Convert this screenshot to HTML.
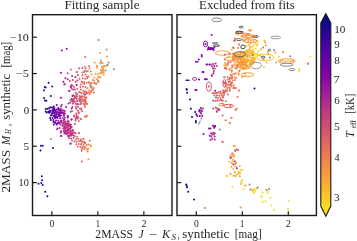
<!DOCTYPE html>
<html><head><meta charset="utf-8"><style>html,body{margin:0;padding:0;background:#fff;}svg{display:block;will-change:transform;}</style></head>
<body><svg width="357" height="241" viewBox="0 0 357 241">
<rect width="357" height="241" fill="#fff"/>
<defs><linearGradient id="cbg" x1="0" y1="0" x2="0" y2="1"><stop offset="0.000" stop-color="#0d0887"/><stop offset="0.050" stop-color="#280592"/><stop offset="0.100" stop-color="#3e049c"/><stop offset="0.150" stop-color="#5102a3"/><stop offset="0.200" stop-color="#6400a7"/><stop offset="0.250" stop-color="#7701a8"/><stop offset="0.300" stop-color="#8808a6"/><stop offset="0.350" stop-color="#99159f"/><stop offset="0.400" stop-color="#a82296"/><stop offset="0.450" stop-color="#b6308b"/><stop offset="0.500" stop-color="#c33d80"/><stop offset="0.550" stop-color="#cd4a76"/><stop offset="0.600" stop-color="#d8576b"/><stop offset="0.650" stop-color="#e26561"/><stop offset="0.700" stop-color="#ea7457"/><stop offset="0.750" stop-color="#f1834c"/><stop offset="0.800" stop-color="#f79342"/><stop offset="0.850" stop-color="#fca338"/><stop offset="0.900" stop-color="#fdb52e"/><stop offset="0.950" stop-color="#fdc827"/><stop offset="1.000" stop-color="#f9dc24"/></linearGradient></defs>
<g><circle cx="64.4" cy="113.8" r="1.0" fill="#8e0ca4"/><circle cx="253.8" cy="52.6" r="1.0" fill="#fbd724"/><circle cx="255.5" cy="48.5" r="1.0" fill="#fdc627"/><circle cx="216.0" cy="97.5" r="1.0" fill="#cc4778"/><circle cx="76.2" cy="144.3" r="1.0" fill="#e16462"/><circle cx="242.1" cy="64.2" r="1.0" fill="#f3854b"/><circle cx="80.1" cy="99.9" r="1.0" fill="#e26660"/><circle cx="64.4" cy="128.0" r="1.0" fill="#ab2494"/><circle cx="51.4" cy="115.2" r="1.0" fill="#6600a7"/><circle cx="212.6" cy="93.3" r="1.0" fill="#e16462"/><circle cx="50.5" cy="107.2" r="1.0" fill="#5002a2"/><circle cx="244.7" cy="61.1" r="1.0" fill="#f89540"/><circle cx="68.4" cy="130.6" r="1.0" fill="#b6308b"/><circle cx="57.2" cy="111.8" r="1.0" fill="#8b0aa5"/><circle cx="60.9" cy="72.8" r="1.0" fill="#8606a6"/><circle cx="85.4" cy="99.1" r="1.0" fill="#ed7a52"/><circle cx="58.1" cy="120.8" r="1.0" fill="#ab2494"/><circle cx="269.0" cy="189.1" r="1.0" fill="#8a8a8a"/><circle cx="267.7" cy="192.8" r="1.0" fill="#f9dc24"/><circle cx="90.9" cy="92.1" r="1.0" fill="#ed7a52"/><circle cx="241.2" cy="59.5" r="1.0" fill="#f68d45"/><circle cx="234.8" cy="172.4" r="1.0" fill="#fdae32"/><circle cx="247.5" cy="65.7" r="1.0" fill="#fa9b3d"/><circle cx="248.1" cy="52.2" r="1.0" fill="#fcce25"/><circle cx="249.3" cy="50.4" r="1.0" fill="#febd2a"/><circle cx="221.1" cy="100.0" r="1.0" fill="#cc4778"/><circle cx="79.1" cy="99.2" r="1.0" fill="#e16462"/><circle cx="280.5" cy="61.0" r="1.0" fill="#f9983e"/><circle cx="52.2" cy="86.6" r="1.0" fill="#5601a4"/><circle cx="235.7" cy="73.2" r="1.0" fill="#ed7a52"/><circle cx="207.2" cy="64.4" r="1.0" fill="#8606a6"/><circle cx="233.9" cy="154.7" r="1.0" fill="#fdae32"/><circle cx="83.4" cy="139.0" r="1.0" fill="#e16462"/><circle cx="49.2" cy="112.8" r="1.0" fill="#20068f"/><circle cx="247.9" cy="52.4" r="1.0" fill="#fcd025"/><circle cx="53.1" cy="111.7" r="1.0" fill="#48039f"/><circle cx="217.3" cy="100.4" r="1.0" fill="#cc4778"/><circle cx="214.7" cy="139.5" r="1.0" fill="#ab2494"/><circle cx="242.1" cy="62.7" r="1.0" fill="#f79143"/><circle cx="243.3" cy="66.3" r="1.0" fill="#f9983e"/><circle cx="253.0" cy="61.7" r="1.0" fill="#fcce25"/><circle cx="55.4" cy="116.9" r="1.0" fill="#6001a6"/><circle cx="293.0" cy="61.0" r="1.0" fill="#f9983e"/><circle cx="85.2" cy="57.0" r="1.0" fill="#e16462"/><circle cx="80.0" cy="101.3" r="1.0" fill="#e16462"/><circle cx="243.6" cy="52.1" r="1.0" fill="#f9973f"/><circle cx="242.0" cy="63.5" r="1.0" fill="#f9983e"/><circle cx="78.7" cy="143.9" r="1.0" fill="#e16462"/><circle cx="238.9" cy="54.7" r="1.0" fill="#fdb130"/><circle cx="72.1" cy="76.0" r="1.0" fill="#ab2494"/><circle cx="228.8" cy="82.1" r="1.0" fill="#e16462"/><circle cx="238.1" cy="149.9" r="1.0" fill="#e16462"/><circle cx="240.0" cy="54.4" r="1.0" fill="#f68d45"/><circle cx="54.4" cy="108.1" r="1.0" fill="#6c00a8"/><circle cx="80.8" cy="100.8" r="1.0" fill="#e16462"/><circle cx="235.8" cy="88.0" r="1.0" fill="#e16462"/><circle cx="70.8" cy="124.8" r="1.0" fill="#ab2494"/><circle cx="107.1" cy="56.5" r="1.0" fill="#f9983e"/><circle cx="70.4" cy="128.6" r="1.0" fill="#ab2494"/><circle cx="240.5" cy="66.6" r="1.0" fill="#f48849"/><circle cx="90.8" cy="85.5" r="1.0" fill="#8a8a8a"/><circle cx="74.9" cy="89.6" r="1.0" fill="#cc4778"/><circle cx="84.8" cy="91.8" r="1.0" fill="#e26660"/><circle cx="66.6" cy="125.4" r="1.0" fill="#b7318a"/><circle cx="216.8" cy="95.4" r="1.0" fill="#cc4778"/><circle cx="61.5" cy="135.9" r="1.0" fill="#ab2494"/><circle cx="253.1" cy="59.2" r="1.0" fill="#fdc627"/><circle cx="101.7" cy="71.8" r="1.0" fill="#f9983e"/><circle cx="67.8" cy="135.9" r="1.0" fill="#cc4778"/><circle cx="229.0" cy="81.6" r="1.0" fill="#e16462"/><circle cx="50.1" cy="117.9" r="1.0" fill="#20068f"/><circle cx="61.0" cy="131.3" r="1.0" fill="#ab2494"/><circle cx="233.0" cy="80.4" r="1.0" fill="#ed7a52"/><circle cx="53.7" cy="108.7" r="1.0" fill="#5601a4"/><circle cx="77.2" cy="104.8" r="1.0" fill="#cd4a76"/><circle cx="226.5" cy="84.4" r="1.0" fill="#ed7a52"/><circle cx="237.9" cy="66.9" r="1.0" fill="#f2844b"/><circle cx="76.7" cy="116.8" r="1.0" fill="#cc4778"/><circle cx="80.8" cy="89.6" r="1.0" fill="#e16462"/><circle cx="229.6" cy="90.8" r="1.0" fill="#ed7a52"/><circle cx="266.5" cy="62.7" r="1.0" fill="#fdc627"/><circle cx="249.0" cy="45.0" r="1.0" fill="#fdc627"/><circle cx="246.1" cy="56.1" r="1.0" fill="#fba139"/><circle cx="60.9" cy="136.1" r="1.0" fill="#ab2494"/><circle cx="248.1" cy="41.1" r="1.0" fill="#f9983e"/><circle cx="73.2" cy="89.4" r="1.0" fill="#cc4778"/><circle cx="226.5" cy="84.1" r="1.0" fill="#e16462"/><circle cx="226.1" cy="91.6" r="1.0" fill="#e16462"/><circle cx="227.7" cy="77.1" r="1.0" fill="#ed7a52"/><circle cx="89.2" cy="90.4" r="1.0" fill="#ed7a52"/><circle cx="246.2" cy="55.6" r="1.0" fill="#fec029"/><circle cx="74.1" cy="98.8" r="1.0" fill="#cc4778"/><circle cx="250.8" cy="40.4" r="1.0" fill="#f9983e"/><circle cx="92.9" cy="80.0" r="1.0" fill="#ed7a52"/><circle cx="242.0" cy="65.2" r="1.0" fill="#fa9e3b"/><circle cx="225.6" cy="120.2" r="1.0" fill="#e16462"/><circle cx="84.2" cy="97.1" r="1.0" fill="#e16462"/><circle cx="67.5" cy="121.7" r="1.0" fill="#c9447a"/><circle cx="222.6" cy="141.7" r="1.0" fill="#e16462"/><circle cx="243.1" cy="60.3" r="1.0" fill="#fca338"/><circle cx="245.7" cy="52.1" r="1.0" fill="#fa9e3b"/><circle cx="89.1" cy="66.0" r="1.0" fill="#e16462"/><circle cx="85.1" cy="116.8" r="1.0" fill="#ed7a52"/><circle cx="41.8" cy="176.2" r="1.0" fill="#20068f"/><circle cx="70.3" cy="102.5" r="1.0" fill="#ab2494"/><circle cx="64.4" cy="113.3" r="1.0" fill="#ab2494"/><circle cx="239.5" cy="57.1" r="1.0" fill="#f89540"/><circle cx="69.2" cy="132.6" r="1.0" fill="#ca457a"/><circle cx="80.8" cy="84.5" r="1.0" fill="#e16462"/><circle cx="230.7" cy="74.8" r="1.0" fill="#e16462"/><circle cx="77.4" cy="101.3" r="1.0" fill="#cc4778"/><circle cx="107.6" cy="65.0" r="1.0" fill="#8a8a8a"/><circle cx="232.0" cy="82.4" r="1.0" fill="#ed7a52"/><circle cx="245.0" cy="65.0" r="1.0" fill="#f9973f"/><circle cx="267.7" cy="191.0" r="1.0" fill="#f9dc24"/><circle cx="67.8" cy="133.1" r="1.0" fill="#ba3388"/><circle cx="227.0" cy="90.8" r="1.0" fill="#e16462"/><circle cx="231.4" cy="156.4" r="1.0" fill="#fdae32"/><circle cx="83.3" cy="138.8" r="1.0" fill="#ed7a52"/><circle cx="218.1" cy="97.9" r="1.0" fill="#e16462"/><circle cx="264.4" cy="40.8" r="1.0" fill="#fdc627"/><circle cx="238.1" cy="59.1" r="1.0" fill="#f3854b"/><circle cx="234.5" cy="60.3" r="1.0" fill="#f0804e"/><circle cx="243.6" cy="62.5" r="1.0" fill="#fdb42f"/><circle cx="240.5" cy="55.2" r="1.0" fill="#fa9e3b"/><circle cx="85.2" cy="94.4" r="1.0" fill="#db5c68"/><circle cx="201.3" cy="110.5" r="1.0" fill="#8606a6"/><circle cx="244.9" cy="52.2" r="1.0" fill="#fdb130"/><circle cx="222.8" cy="96.3" r="1.0" fill="#e16462"/><circle cx="67.0" cy="133.6" r="1.0" fill="#b32c8e"/><circle cx="42.7" cy="145.7" r="1.0" fill="#20068f"/><circle cx="239.4" cy="56.1" r="1.0" fill="#f9983e"/><circle cx="214.2" cy="127.5" r="1.0" fill="#ab2494"/><circle cx="238.9" cy="90.5" r="1.0" fill="#ed7a52"/><circle cx="231.6" cy="86.2" r="1.0" fill="#ed7a52"/><circle cx="216.9" cy="66.1" r="1.0" fill="#cc4778"/><circle cx="69.4" cy="125.4" r="1.0" fill="#cc4778"/><circle cx="265.7" cy="45.5" r="1.0" fill="#f9983e"/><circle cx="223.2" cy="90.4" r="1.0" fill="#e16462"/><circle cx="230.5" cy="155.5" r="1.0" fill="#fdae32"/><circle cx="242.4" cy="59.5" r="1.0" fill="#f79342"/><circle cx="58.4" cy="112.5" r="1.0" fill="#8606a6"/><circle cx="60.9" cy="97.8" r="1.0" fill="#8606a6"/><circle cx="250.9" cy="50.9" r="1.0" fill="#fdac33"/><circle cx="100.3" cy="52.9" r="1.0" fill="#f9983e"/><circle cx="250.4" cy="63.1" r="1.0" fill="#fdae32"/><circle cx="213.9" cy="92.9" r="1.0" fill="#e16462"/><circle cx="82.1" cy="111.3" r="1.0" fill="#8a8a8a"/><circle cx="230.7" cy="84.5" r="1.0" fill="#ed7a52"/><circle cx="229.5" cy="79.3" r="1.0" fill="#ed7a52"/><circle cx="90.8" cy="71.6" r="1.0" fill="#ed7a52"/><circle cx="238.3" cy="56.8" r="1.0" fill="#f9983e"/><circle cx="70.4" cy="143.7" r="1.0" fill="#ab2494"/><circle cx="243.6" cy="61.7" r="1.0" fill="#fdac33"/><circle cx="237.1" cy="64.5" r="1.0" fill="#fb9f3a"/><circle cx="42.7" cy="185.1" r="1.0" fill="#20068f"/><circle cx="67.1" cy="130.2" r="1.0" fill="#a62098"/><circle cx="247.2" cy="59.1" r="1.0" fill="#feb72d"/><circle cx="86.1" cy="102.4" r="1.0" fill="#e16462"/><circle cx="242.3" cy="77.0" r="1.0" fill="#f9983e"/><circle cx="47.4" cy="108.7" r="1.0" fill="#20068f"/><circle cx="244.7" cy="61.6" r="1.0" fill="#f89540"/><circle cx="57.2" cy="129.2" r="1.0" fill="#ab2494"/><circle cx="201.8" cy="56.4" r="1.0" fill="#8f0da4"/><circle cx="233.1" cy="47.4" r="1.0" fill="#e16462"/><circle cx="211.0" cy="133.2" r="1.0" fill="#ab2494"/><circle cx="241.5" cy="68.6" r="1.0" fill="#f07f4f"/><circle cx="203.0" cy="108.4" r="1.0" fill="#ab2494"/><circle cx="49.8" cy="110.6" r="1.0" fill="#44039e"/><circle cx="242.0" cy="58.0" r="1.0" fill="#feb82c"/><circle cx="241.9" cy="61.3" r="1.0" fill="#f3854b"/><circle cx="224.7" cy="54.8" r="1.0" fill="#ab2494"/><circle cx="61.0" cy="110.3" r="1.0" fill="#7501a8"/><circle cx="250.0" cy="48.5" r="1.0" fill="#fdc627"/><circle cx="245.7" cy="63.9" r="1.0" fill="#f79342"/><circle cx="40.5" cy="150.4" r="1.0" fill="#20068f"/><circle cx="252.4" cy="47.6" r="1.0" fill="#fdc627"/><circle cx="232.1" cy="65.6" r="1.0" fill="#ed7a52"/><circle cx="227.4" cy="88.3" r="1.0" fill="#e16462"/><circle cx="52.4" cy="110.0" r="1.0" fill="#6a00a8"/><circle cx="257.3" cy="40.7" r="1.0" fill="#fdc627"/><circle cx="58.1" cy="122.9" r="1.0" fill="#6c00a8"/><circle cx="87.1" cy="104.0" r="1.0" fill="#e66c5c"/><circle cx="253.2" cy="50.1" r="1.0" fill="#fdc627"/><circle cx="219.8" cy="129.5" r="1.0" fill="#8a8a8a"/><circle cx="230.4" cy="82.0" r="1.0" fill="#f9983e"/><circle cx="75.8" cy="92.9" r="1.0" fill="#cc4778"/><circle cx="84.1" cy="72.0" r="1.0" fill="#8a8a8a"/><circle cx="65.5" cy="129.7" r="1.0" fill="#bb3488"/><circle cx="207.8" cy="49.5" r="1.0" fill="#8606a6"/><circle cx="103.8" cy="72.2" r="1.0" fill="#f9983e"/><circle cx="234.6" cy="88.0" r="1.0" fill="#e16462"/><circle cx="59.3" cy="122.5" r="1.0" fill="#8606a6"/><circle cx="235.0" cy="56.5" r="1.0" fill="#fba139"/><circle cx="254.0" cy="53.9" r="1.0" fill="#f8e125"/><circle cx="82.9" cy="86.6" r="1.0" fill="#e16462"/><circle cx="46.4" cy="100.7" r="1.0" fill="#20068f"/><circle cx="80.9" cy="118.9" r="1.0" fill="#e16462"/><circle cx="244.0" cy="69.0" r="1.0" fill="#f79342"/><circle cx="255.7" cy="54.3" r="1.0" fill="#fdcb26"/><circle cx="226.0" cy="67.5" r="1.0" fill="#f9983e"/><circle cx="65.2" cy="125.9" r="1.0" fill="#ab2494"/><circle cx="66.1" cy="107.1" r="1.0" fill="#8606a6"/><circle cx="245.5" cy="62.1" r="1.0" fill="#febb2b"/><circle cx="59.2" cy="110.8" r="1.0" fill="#8606a6"/><circle cx="209.3" cy="64.4" r="1.0" fill="#8606a6"/><circle cx="237.7" cy="174.1" r="1.0" fill="#fdae32"/><circle cx="82.9" cy="146.4" r="1.0" fill="#ed7a52"/><circle cx="219.4" cy="109.6" r="1.0" fill="#ab2494"/><circle cx="221.9" cy="95.4" r="1.0" fill="#e16462"/><circle cx="307.8" cy="64.0" r="1.0" fill="#f9983e"/><circle cx="257.4" cy="44.2" r="1.0" fill="#fdc627"/><circle cx="102.1" cy="66.7" r="1.0" fill="#ed7a52"/><circle cx="274.2" cy="210.0" r="1.0" fill="#f8df25"/><circle cx="252.2" cy="54.7" r="1.0" fill="#fdae32"/><circle cx="69.8" cy="134.8" r="1.0" fill="#c8437b"/><circle cx="285.5" cy="61.5" r="1.0" fill="#f9983e"/><circle cx="225.2" cy="62.9" r="1.0" fill="#f9983e"/><circle cx="103.8" cy="74.7" r="1.0" fill="#f9983e"/><circle cx="233.5" cy="164.4" r="1.0" fill="#ab2494"/><circle cx="214.8" cy="68.6" r="1.0" fill="#cc4778"/><circle cx="65.4" cy="77.9" r="1.0" fill="#ab2494"/><circle cx="240.9" cy="65.1" r="1.0" fill="#f07f4f"/><circle cx="67.5" cy="127.4" r="1.0" fill="#ad2793"/><circle cx="242.9" cy="56.1" r="1.0" fill="#f9973f"/><circle cx="203.4" cy="72.0" r="1.0" fill="#8606a6"/><circle cx="245.0" cy="59.1" r="1.0" fill="#fdb42f"/><circle cx="52.6" cy="117.9" r="1.0" fill="#5601a4"/><circle cx="234.2" cy="64.6" r="1.0" fill="#fa9e3b"/><circle cx="69.0" cy="128.4" r="1.0" fill="#cc4778"/><circle cx="250.4" cy="189.6" r="1.0" fill="#8a8a8a"/><circle cx="250.2" cy="53.1" r="1.0" fill="#fdc827"/><circle cx="250.7" cy="60.0" r="1.0" fill="#febe2a"/><circle cx="77.9" cy="118.5" r="1.0" fill="#cc4778"/><circle cx="236.4" cy="60.4" r="1.0" fill="#fba238"/><circle cx="238.8" cy="65.0" r="1.0" fill="#fca537"/><circle cx="310.3" cy="56.6" r="1.0" fill="#f7e425"/><circle cx="237.4" cy="60.6" r="1.0" fill="#f68f44"/><circle cx="85.3" cy="74.5" r="1.0" fill="#e16462"/><circle cx="224.5" cy="92.9" r="1.0" fill="#e16462"/><circle cx="66.1" cy="123.8" r="1.0" fill="#cc4778"/><circle cx="86.6" cy="71.6" r="1.0" fill="#8a8a8a"/><circle cx="74.9" cy="96.3" r="1.0" fill="#cc4778"/><circle cx="70.3" cy="100.1" r="1.0" fill="#8a8a8a"/><circle cx="235.7" cy="56.6" r="1.0" fill="#fa9e3b"/><circle cx="223.7" cy="104.7" r="1.0" fill="#ed7a52"/><circle cx="241.6" cy="53.3" r="1.0" fill="#f79044"/><circle cx="246.5" cy="50.6" r="1.0" fill="#fca835"/><circle cx="236.0" cy="33.7" r="1.0" fill="#f9983e"/><circle cx="88.7" cy="76.6" r="1.0" fill="#ed7a52"/><circle cx="66.9" cy="128.0" r="1.0" fill="#cc4778"/><circle cx="85.4" cy="143.0" r="1.0" fill="#ed7a52"/><circle cx="86.3" cy="93.7" r="1.0" fill="#e87059"/><circle cx="69.6" cy="91.1" r="1.0" fill="#cc4778"/><circle cx="44.8" cy="87.0" r="1.0" fill="#20068f"/><circle cx="239.6" cy="70.6" r="1.0" fill="#ed7a52"/><circle cx="84.2" cy="141.8" r="1.0" fill="#ed7a52"/><circle cx="219.0" cy="92.1" r="1.0" fill="#e16462"/><circle cx="64.4" cy="84.5" r="1.0" fill="#ab2494"/><circle cx="82.4" cy="72.4" r="1.0" fill="#e16462"/><circle cx="63.6" cy="123.7" r="1.0" fill="#c5407e"/><circle cx="212.2" cy="138.7" r="1.0" fill="#ab2494"/><circle cx="237.4" cy="66.5" r="1.0" fill="#f89441"/><circle cx="242.1" cy="62.6" r="1.0" fill="#fba139"/><circle cx="58.6" cy="109.8" r="1.0" fill="#8707a6"/><circle cx="233.5" cy="48.0" r="1.0" fill="#e16462"/><circle cx="222.3" cy="93.3" r="1.0" fill="#e16462"/><circle cx="43.9" cy="90.3" r="1.0" fill="#20068f"/><circle cx="216.3" cy="108.4" r="1.0" fill="#e16462"/><circle cx="78.8" cy="121.0" r="1.0" fill="#e16462"/><circle cx="229.7" cy="90.1" r="1.0" fill="#e16462"/><circle cx="80.2" cy="104.2" r="1.0" fill="#d45270"/><circle cx="232.0" cy="77.4" r="1.0" fill="#ed7a52"/><circle cx="252.3" cy="58.5" r="1.0" fill="#fccd25"/><circle cx="60.9" cy="109.1" r="1.0" fill="#ab2494"/><circle cx="244.8" cy="73.3" r="1.0" fill="#f9983e"/><circle cx="87.4" cy="78.3" r="1.0" fill="#e16462"/><circle cx="59.6" cy="116.3" r="1.0" fill="#7401a8"/><circle cx="64.5" cy="127.1" r="1.0" fill="#a82296"/><circle cx="237.2" cy="54.6" r="1.0" fill="#fca835"/><circle cx="105.9" cy="66.3" r="1.0" fill="#f9983e"/><circle cx="238.1" cy="48.1" r="1.0" fill="#ed7a52"/><circle cx="246.3" cy="55.9" r="1.0" fill="#f9973f"/><circle cx="74.1" cy="115.5" r="1.0" fill="#cc4778"/><circle cx="85.8" cy="91.2" r="1.0" fill="#ed7a52"/><circle cx="243.6" cy="189.2" r="1.0" fill="#f9dc24"/><circle cx="84.2" cy="148.9" r="1.0" fill="#ed7a52"/><circle cx="252.8" cy="61.4" r="1.0" fill="#fca934"/><circle cx="252.9" cy="57.8" r="1.0" fill="#fdca26"/><circle cx="66.3" cy="131.0" r="1.0" fill="#c13b82"/><circle cx="283.0" cy="60.5" r="1.0" fill="#f9983e"/><circle cx="238.6" cy="171.5" r="1.0" fill="#fdae32"/><circle cx="74.2" cy="116.4" r="1.0" fill="#cc4778"/><circle cx="55.8" cy="112.1" r="1.0" fill="#5601a4"/><circle cx="85.5" cy="100.2" r="1.0" fill="#e26561"/><circle cx="243.1" cy="68.2" r="1.0" fill="#f58c46"/><circle cx="243.1" cy="67.3" r="1.0" fill="#fca636"/><circle cx="234.4" cy="57.6" r="1.0" fill="#f58b47"/><circle cx="65.7" cy="130.8" r="1.0" fill="#ab2494"/><circle cx="245.4" cy="64.0" r="1.0" fill="#fa9b3d"/><circle cx="269.9" cy="57.6" r="1.0" fill="#8a8a8a"/><circle cx="236.9" cy="56.8" r="1.0" fill="#fdb22f"/><circle cx="79.5" cy="78.7" r="1.0" fill="#e16462"/><circle cx="53.4" cy="120.0" r="1.0" fill="#5601a4"/><circle cx="226.3" cy="69.0" r="1.0" fill="#ed7a52"/><circle cx="231.4" cy="118.1" r="1.0" fill="#ed7a52"/><circle cx="236.2" cy="58.1" r="1.0" fill="#fba238"/><circle cx="246.1" cy="68.6" r="1.0" fill="#f9973f"/><circle cx="245.6" cy="75.4" r="1.0" fill="#fdc627"/><circle cx="75.9" cy="118.9" r="1.0" fill="#cc4778"/><circle cx="64.2" cy="130.3" r="1.0" fill="#bf3984"/><circle cx="255.5" cy="36.4" r="1.0" fill="#f9983e"/><circle cx="86.7" cy="92.5" r="1.0" fill="#e06363"/><circle cx="65.4" cy="128.0" r="1.0" fill="#b12a90"/><circle cx="65.4" cy="132.5" r="1.0" fill="#b02991"/><circle cx="195.1" cy="112.1" r="1.0" fill="#20068f"/><circle cx="205.5" cy="43.9" r="1.0" fill="#8606a6"/><circle cx="95.8" cy="74.1" r="1.0" fill="#f9983e"/><circle cx="228.9" cy="84.9" r="1.0" fill="#ed7a52"/><circle cx="240.6" cy="207.4" r="1.0" fill="#f58b47"/><circle cx="230.7" cy="62.3" r="1.0" fill="#e16462"/><circle cx="84.2" cy="92.5" r="1.0" fill="#e16462"/><circle cx="63.1" cy="123.0" r="1.0" fill="#ba3388"/><circle cx="235.6" cy="166.5" r="1.0" fill="#fdae32"/><circle cx="84.6" cy="95.0" r="1.0" fill="#8a8a8a"/><circle cx="79.0" cy="68.2" r="1.0" fill="#cc4778"/><circle cx="67.8" cy="116.0" r="1.0" fill="#8606a6"/><circle cx="254.5" cy="88.6" r="1.0" fill="#20068f"/><circle cx="240.0" cy="54.9" r="1.0" fill="#fdb52e"/><circle cx="238.9" cy="63.2" r="1.0" fill="#fa9c3c"/><circle cx="57.6" cy="117.9" r="1.0" fill="#8606a6"/><circle cx="76.6" cy="98.8" r="1.0" fill="#cc4778"/><circle cx="246.4" cy="60.8" r="1.0" fill="#fdaf31"/><circle cx="86.0" cy="104.1" r="1.0" fill="#ed7a52"/><circle cx="54.5" cy="116.5" r="1.0" fill="#6a00a8"/><circle cx="80.8" cy="139.7" r="1.0" fill="#e16462"/><circle cx="64.8" cy="110.9" r="1.0" fill="#ab2494"/><circle cx="91.3" cy="82.9" r="1.0" fill="#ed7a52"/><circle cx="233.1" cy="169.0" r="1.0" fill="#fdae32"/><circle cx="77.0" cy="136.7" r="1.0" fill="#e16462"/><circle cx="241.5" cy="183.3" r="1.0" fill="#fcce25"/><circle cx="229.7" cy="81.3" r="1.0" fill="#e16462"/><circle cx="240.5" cy="56.3" r="1.0" fill="#fdaf31"/><circle cx="248.3" cy="51.2" r="1.0" fill="#fdca26"/><circle cx="198.8" cy="59.4" r="1.0" fill="#8606a6"/><circle cx="81.6" cy="81.6" r="1.0" fill="#e16462"/><circle cx="76.2" cy="113.4" r="1.0" fill="#cc4778"/><circle cx="288.5" cy="200.9" r="1.0" fill="#f8df25"/><circle cx="251.2" cy="60.4" r="1.0" fill="#fca338"/><circle cx="186.5" cy="89.0" r="1.0" fill="#20068f"/><circle cx="79.1" cy="92.1" r="1.0" fill="#e16462"/><circle cx="96.7" cy="79.1" r="1.0" fill="#f9983e"/><circle cx="215.6" cy="107.5" r="1.0" fill="#e16462"/><circle cx="205.9" cy="79.2" r="1.0" fill="#8606a6"/><circle cx="240.2" cy="61.8" r="1.0" fill="#f9973f"/><circle cx="98.6" cy="40.0" r="1.0" fill="#8a8a8a"/><circle cx="215.2" cy="93.3" r="1.0" fill="#e16462"/><circle cx="252.8" cy="54.7" r="1.0" fill="#fdaf31"/><circle cx="50.4" cy="111.6" r="1.0" fill="#20068f"/><circle cx="78.7" cy="113.4" r="1.0" fill="#e16462"/><circle cx="70.7" cy="132.9" r="1.0" fill="#cc4778"/><circle cx="240.8" cy="169.9" r="1.0" fill="#fcce25"/><circle cx="53.9" cy="124.6" r="1.0" fill="#5601a4"/><circle cx="56.7" cy="104.9" r="1.0" fill="#8606a6"/><circle cx="236.2" cy="55.2" r="1.0" fill="#f58b47"/><circle cx="247.5" cy="50.8" r="1.0" fill="#fdc827"/><circle cx="213.1" cy="125.7" r="1.0" fill="#ab2494"/><circle cx="243.5" cy="57.5" r="1.0" fill="#f89540"/><circle cx="238.4" cy="58.4" r="1.0" fill="#f79342"/><circle cx="223.2" cy="97.5" r="1.0" fill="#e16462"/><circle cx="100.9" cy="73.2" r="1.0" fill="#f9983e"/><circle cx="77.4" cy="100.9" r="1.0" fill="#cc4778"/><circle cx="63.8" cy="126.2" r="1.0" fill="#cc4778"/><circle cx="72.4" cy="101.3" r="1.0" fill="#ab2494"/><circle cx="84.8" cy="99.9" r="1.0" fill="#e16462"/><circle cx="101.5" cy="63.0" r="1.0" fill="#f9983e"/><circle cx="202.6" cy="72.0" r="1.0" fill="#8606a6"/><circle cx="249.4" cy="34.1" r="1.0" fill="#f9983e"/><circle cx="245.3" cy="68.0" r="1.0" fill="#f89441"/><circle cx="213.1" cy="132.8" r="1.0" fill="#ab2494"/><circle cx="235.5" cy="110.3" r="1.0" fill="#ed7a52"/><circle cx="50.8" cy="139.0" r="1.0" fill="#8a8a8a"/><circle cx="62.6" cy="124.1" r="1.0" fill="#bd3786"/><circle cx="215.6" cy="63.4" r="1.0" fill="#ab2494"/><circle cx="77.4" cy="80.4" r="1.0" fill="#cc4778"/><circle cx="102.5" cy="62.9" r="1.0" fill="#f9983e"/><circle cx="231.8" cy="71.7" r="1.0" fill="#ed7a52"/><circle cx="230.1" cy="54.0" r="1.0" fill="#e16462"/><circle cx="234.3" cy="40.4" r="1.0" fill="#f9983e"/><circle cx="86.8" cy="116.4" r="1.0" fill="#ed7a52"/><circle cx="244.8" cy="40.8" r="1.0" fill="#f9983e"/><circle cx="236.1" cy="162.7" r="1.0" fill="#fdae32"/><circle cx="82.8" cy="78.3" r="1.0" fill="#e16462"/><circle cx="251.8" cy="62.9" r="1.0" fill="#fdc627"/><circle cx="231.9" cy="163.1" r="1.0" fill="#f58b47"/><circle cx="213.1" cy="100.8" r="1.0" fill="#cc4778"/><circle cx="73.2" cy="95.4" r="1.0" fill="#8606a6"/><circle cx="217.7" cy="92.8" r="1.0" fill="#e16462"/><circle cx="248.1" cy="60.2" r="1.0" fill="#fca835"/><circle cx="262.5" cy="201.8" r="1.0" fill="#f8df25"/><circle cx="245.7" cy="64.3" r="1.0" fill="#f9983e"/><circle cx="98.4" cy="80.8" r="1.0" fill="#f9983e"/><circle cx="283.0" cy="52.1" r="1.0" fill="#f9983e"/><circle cx="210.5" cy="140.0" r="1.0" fill="#ab2494"/><circle cx="78.7" cy="132.9" r="1.0" fill="#e16462"/><circle cx="72.4" cy="130.4" r="1.0" fill="#cc4778"/><circle cx="88.5" cy="159.2" r="1.0" fill="#f9983e"/><circle cx="77.8" cy="74.9" r="1.0" fill="#cc4778"/><circle cx="98.4" cy="82.1" r="1.0" fill="#ed7a52"/><circle cx="254.3" cy="193.0" r="1.0" fill="#f9dc24"/><circle cx="213.9" cy="71.1" r="1.0" fill="#ab2494"/><circle cx="253.2" cy="60.2" r="1.0" fill="#fdc627"/><circle cx="251.1" cy="52.8" r="1.0" fill="#febd2a"/><circle cx="98.0" cy="80.4" r="1.0" fill="#8a8a8a"/><circle cx="71.3" cy="119.8" r="1.0" fill="#ab2494"/><circle cx="53.4" cy="122.1" r="1.0" fill="#5601a4"/><circle cx="58.4" cy="109.1" r="1.0" fill="#8606a6"/><circle cx="45.2" cy="191.8" r="1.0" fill="#20068f"/><circle cx="80.8" cy="118.9" r="1.0" fill="#e16462"/><circle cx="242.1" cy="36.4" r="1.0" fill="#f9983e"/><circle cx="73.4" cy="135.3" r="1.0" fill="#cc4778"/><circle cx="231.5" cy="118.1" r="1.0" fill="#ed7a52"/><circle cx="81.7" cy="150.8" r="1.0" fill="#e16462"/><circle cx="250.6" cy="63.7" r="1.0" fill="#fdc827"/><circle cx="64.8" cy="113.4" r="1.0" fill="#ab2494"/><circle cx="52.1" cy="112.9" r="1.0" fill="#5601a4"/><circle cx="235.8" cy="65.4" r="1.0" fill="#fb9f3a"/><circle cx="209.0" cy="128.6" r="1.0" fill="#8606a6"/><circle cx="210.5" cy="128.6" r="1.0" fill="#8606a6"/><circle cx="209.7" cy="135.8" r="1.0" fill="#8606a6"/><circle cx="223.8" cy="82.0" r="1.0" fill="#ed7a52"/><circle cx="64.1" cy="119.2" r="1.0" fill="#8d0ba5"/><circle cx="236.3" cy="56.4" r="1.0" fill="#f3854b"/><circle cx="84.6" cy="142.8" r="1.0" fill="#e16462"/><circle cx="88.4" cy="149.1" r="1.0" fill="#f9983e"/><circle cx="231.8" cy="83.3" r="1.0" fill="#e16462"/><circle cx="64.8" cy="83.8" r="1.0" fill="#cc4778"/><circle cx="202.2" cy="111.3" r="1.0" fill="#ab2494"/><circle cx="238.0" cy="53.7" r="1.0" fill="#fdab33"/><circle cx="270.3" cy="197.8" r="1.0" fill="#f9dc24"/><circle cx="74.9" cy="101.3" r="1.0" fill="#cc4778"/><circle cx="73.6" cy="138.0" r="1.0" fill="#cc4778"/><circle cx="81.2" cy="144.3" r="1.0" fill="#e16462"/><circle cx="54.3" cy="113.3" r="1.0" fill="#5601a4"/><circle cx="68.5" cy="136.1" r="1.0" fill="#b12a90"/><circle cx="70.8" cy="131.5" r="1.0" fill="#ab2494"/><circle cx="246.6" cy="65.3" r="1.0" fill="#fa9c3c"/><circle cx="251.0" cy="43.5" r="1.0" fill="#fdc627"/><circle cx="255.4" cy="190.9" r="1.0" fill="#f9dc24"/><circle cx="76.6" cy="84.9" r="1.0" fill="#8606a6"/><circle cx="240.8" cy="53.1" r="1.0" fill="#fa9e3b"/><circle cx="82.5" cy="142.0" r="1.0" fill="#e16462"/><circle cx="246.1" cy="62.4" r="1.0" fill="#febe2a"/><circle cx="66.3" cy="133.7" r="1.0" fill="#b7318a"/><circle cx="224.4" cy="83.2" r="1.0" fill="#cc4778"/><circle cx="253.0" cy="191.8" r="1.0" fill="#f9dc24"/><circle cx="250.1" cy="53.4" r="1.0" fill="#fdb130"/><circle cx="259.8" cy="55.5" r="1.0" fill="#f9983e"/><circle cx="74.1" cy="132.5" r="1.0" fill="#cc4778"/><circle cx="242.6" cy="61.0" r="1.0" fill="#feb82c"/><circle cx="95.0" cy="83.4" r="1.0" fill="#ed7a52"/><circle cx="244.8" cy="60.4" r="1.0" fill="#f89441"/><circle cx="98.0" cy="76.6" r="1.0" fill="#f9983e"/><circle cx="63.5" cy="120.4" r="1.0" fill="#ab2494"/><circle cx="85.0" cy="147.2" r="1.0" fill="#ed7a52"/><circle cx="248.5" cy="68.1" r="1.0" fill="#fdb52e"/><circle cx="84.2" cy="84.1" r="1.0" fill="#e16462"/><circle cx="88.5" cy="92.5" r="1.0" fill="#e56a5d"/><circle cx="69.8" cy="129.5" r="1.0" fill="#b52f8c"/><circle cx="75.3" cy="77.0" r="1.0" fill="#ab2494"/><circle cx="233.5" cy="74.0" r="1.0" fill="#f9983e"/><circle cx="236.1" cy="175.8" r="1.0" fill="#fdae32"/><circle cx="229.9" cy="77.8" r="1.0" fill="#ed7a52"/><circle cx="67.8" cy="117.6" r="1.0" fill="#8606a6"/><circle cx="69.0" cy="138.0" r="1.0" fill="#cc4778"/><circle cx="262.7" cy="192.6" r="1.0" fill="#f9dc24"/><circle cx="65.2" cy="130.1" r="1.0" fill="#cc4778"/><circle cx="94.2" cy="80.8" r="1.0" fill="#f9983e"/><circle cx="243.0" cy="53.8" r="1.0" fill="#fdac33"/><circle cx="232.7" cy="160.6" r="1.0" fill="#fdae32"/><circle cx="200.5" cy="112.5" r="1.0" fill="#8606a6"/><circle cx="91.6" cy="74.5" r="1.0" fill="#f9983e"/><circle cx="244.5" cy="62.6" r="1.0" fill="#fca636"/><circle cx="251.9" cy="64.6" r="1.0" fill="#fdb42f"/><circle cx="71.6" cy="88.7" r="1.0" fill="#cc4778"/><circle cx="71.6" cy="108.4" r="1.0" fill="#ab2494"/><circle cx="67.7" cy="130.5" r="1.0" fill="#cc4778"/><circle cx="249.5" cy="30.4" r="1.0" fill="#f9983e"/><circle cx="234.3" cy="156.4" r="1.0" fill="#fdae32"/><circle cx="250.1" cy="64.6" r="1.0" fill="#fb9f3a"/><circle cx="197.2" cy="115.9" r="1.0" fill="#5601a4"/><circle cx="100.9" cy="70.3" r="1.0" fill="#f9983e"/><circle cx="248.7" cy="55.8" r="1.0" fill="#fdca26"/><circle cx="224.0" cy="94.9" r="1.0" fill="#ed7a52"/><circle cx="234.0" cy="175.8" r="1.0" fill="#fdae32"/><circle cx="64.3" cy="114.7" r="1.0" fill="#a11b9b"/><circle cx="248.1" cy="38.8" r="1.0" fill="#f9983e"/><circle cx="224.8" cy="59.4" r="1.0" fill="#e16462"/><circle cx="256.8" cy="45.5" r="1.0" fill="#fdc627"/><circle cx="106.7" cy="49.5" r="1.0" fill="#ed7a52"/><circle cx="68.9" cy="121.4" r="1.0" fill="#c03a83"/><circle cx="83.9" cy="104.2" r="1.0" fill="#e06363"/><circle cx="65.1" cy="121.5" r="1.0" fill="#c7427c"/><circle cx="249.7" cy="67.1" r="1.0" fill="#fec029"/><circle cx="254.2" cy="51.9" r="1.0" fill="#f7e225"/><circle cx="72.3" cy="132.8" r="1.0" fill="#c5407e"/><circle cx="275.3" cy="52.4" r="1.0" fill="#f9983e"/><circle cx="104.0" cy="66.0" r="1.0" fill="#f9983e"/><circle cx="94.2" cy="82.9" r="1.0" fill="#ed7a52"/><circle cx="72.4" cy="95.9" r="1.0" fill="#ab2494"/><circle cx="80.2" cy="92.4" r="1.0" fill="#db5c68"/><circle cx="233.4" cy="53.9" r="1.0" fill="#f3854b"/><circle cx="248.4" cy="50.1" r="1.0" fill="#fdb42f"/><circle cx="235.2" cy="150.1" r="1.0" fill="#f58b47"/><circle cx="235.1" cy="80.0" r="1.0" fill="#ed7a52"/><circle cx="76.3" cy="94.9" r="1.0" fill="#dc5d67"/><circle cx="240.3" cy="58.2" r="1.0" fill="#f58b47"/><circle cx="40.9" cy="145.7" r="1.0" fill="#20068f"/><circle cx="222.3" cy="141.8" r="1.0" fill="#e16462"/><circle cx="78.1" cy="107.1" r="1.0" fill="#dc5d67"/><circle cx="75.5" cy="133.2" r="1.0" fill="#cc4778"/><circle cx="247.3" cy="53.5" r="1.0" fill="#fdcb26"/><circle cx="211.8" cy="75.8" r="1.0" fill="#8606a6"/><circle cx="77.8" cy="146.4" r="1.0" fill="#e16462"/><circle cx="241.1" cy="181.7" r="1.0" fill="#fcce25"/><circle cx="249.5" cy="61.8" r="1.0" fill="#feb82c"/><circle cx="72.4" cy="107.1" r="1.0" fill="#ab2494"/><circle cx="73.0" cy="99.6" r="1.0" fill="#d45270"/><circle cx="226.8" cy="175.7" r="1.0" fill="#fcce25"/><circle cx="71.5" cy="84.9" r="1.0" fill="#cc4778"/><circle cx="236.3" cy="108.9" r="1.0" fill="#ed7a52"/><circle cx="236.4" cy="54.1" r="1.0" fill="#f58c46"/><circle cx="253.5" cy="40.4" r="1.0" fill="#f9983e"/><circle cx="233.6" cy="146.1" r="1.0" fill="#fdae32"/><circle cx="87.5" cy="88.3" r="1.0" fill="#ed7a52"/><circle cx="255.2" cy="59.4" r="1.0" fill="#fcce25"/><circle cx="84.9" cy="70.7" r="1.0" fill="#8a8a8a"/><circle cx="253.5" cy="36.1" r="1.0" fill="#f9983e"/><circle cx="224.8" cy="68.2" r="1.0" fill="#e16462"/><circle cx="262.0" cy="196.6" r="1.0" fill="#f9dc24"/><circle cx="70.7" cy="86.2" r="1.0" fill="#ab2494"/><circle cx="243.4" cy="65.3" r="1.0" fill="#f89441"/><circle cx="192.0" cy="116.9" r="1.0" fill="#20068f"/><circle cx="63.0" cy="112.9" r="1.0" fill="#ab2494"/><circle cx="93.8" cy="92.4" r="1.0" fill="#e16462"/><circle cx="247.4" cy="34.7" r="1.0" fill="#f9983e"/><circle cx="83.3" cy="90.4" r="1.0" fill="#e16462"/><circle cx="219.4" cy="95.8" r="1.0" fill="#e16462"/><circle cx="213.1" cy="68.6" r="1.0" fill="#ab2494"/><circle cx="71.8" cy="133.6" r="1.0" fill="#c13b82"/><circle cx="236.1" cy="55.4" r="1.0" fill="#fca934"/><circle cx="235.2" cy="150.9" r="1.0" fill="#e16462"/><circle cx="105.5" cy="70.5" r="1.0" fill="#8a8a8a"/><circle cx="71.7" cy="134.1" r="1.0" fill="#ab2494"/><circle cx="102.6" cy="67.8" r="1.0" fill="#f9983e"/><circle cx="265.2" cy="42.5" r="1.0" fill="#f9983e"/><circle cx="52.1" cy="107.4" r="1.0" fill="#20068f"/><circle cx="72.0" cy="140.5" r="1.0" fill="#e16462"/><circle cx="81.6" cy="96.3" r="1.0" fill="#e16462"/><circle cx="85.0" cy="106.3" r="1.0" fill="#ed7a52"/><circle cx="86.7" cy="82.8" r="1.0" fill="#ed7a52"/><circle cx="217.7" cy="108.4" r="1.0" fill="#cc4778"/><circle cx="91.7" cy="83.3" r="1.0" fill="#ed7a52"/><circle cx="237.7" cy="55.2" r="1.0" fill="#fdae32"/><circle cx="103.0" cy="69.9" r="1.0" fill="#f9983e"/><circle cx="91.3" cy="90.9" r="1.0" fill="#ed7a52"/><circle cx="228.5" cy="62.0" r="1.0" fill="#ed7a52"/><circle cx="70.8" cy="69.5" r="1.0" fill="#e16462"/><circle cx="87.6" cy="151.6" r="1.0" fill="#ed7a52"/><circle cx="67.8" cy="131.3" r="1.0" fill="#cc4778"/><circle cx="51.8" cy="113.7" r="1.0" fill="#5601a4"/><circle cx="96.3" cy="83.3" r="1.0" fill="#f9983e"/><circle cx="54.4" cy="109.8" r="1.0" fill="#5901a5"/><circle cx="236.7" cy="108.7" r="1.0" fill="#ed7a52"/><circle cx="243.4" cy="53.2" r="1.0" fill="#fdb22f"/><circle cx="214.7" cy="133.2" r="1.0" fill="#ab2494"/><circle cx="50.9" cy="115.4" r="1.0" fill="#5601a4"/><circle cx="246.0" cy="65.6" r="1.0" fill="#f48948"/><circle cx="194.0" cy="199.6" r="1.0" fill="#20068f"/><circle cx="67.6" cy="125.1" r="1.0" fill="#c6417d"/><circle cx="242.4" cy="62.2" r="1.0" fill="#f79342"/><circle cx="249.7" cy="55.4" r="1.0" fill="#fdc827"/><circle cx="80.1" cy="100.5" r="1.0" fill="#d5546e"/><circle cx="247.2" cy="56.7" r="1.0" fill="#fa9b3d"/><circle cx="237.1" cy="65.7" r="1.0" fill="#f0804e"/><circle cx="231.8" cy="70.6" r="1.0" fill="#ed7a52"/><circle cx="72.0" cy="111.3" r="1.0" fill="#cc4778"/><circle cx="75.8" cy="118.1" r="1.0" fill="#cc4778"/><circle cx="242.1" cy="59.2" r="1.0" fill="#fdaf31"/><circle cx="253.9" cy="57.4" r="1.0" fill="#febd2a"/><circle cx="235.0" cy="146.1" r="1.0" fill="#fdae32"/><circle cx="103.4" cy="70.1" r="1.0" fill="#f9983e"/><circle cx="99.2" cy="77.4" r="1.0" fill="#f9983e"/><circle cx="89.2" cy="83.3" r="1.0" fill="#ed7a52"/><circle cx="62.6" cy="110.4" r="1.0" fill="#ab2494"/><circle cx="242.7" cy="40.1" r="1.0" fill="#f9983e"/><circle cx="197.5" cy="61.7" r="1.0" fill="#8606a6"/><circle cx="60.9" cy="106.6" r="1.0" fill="#ab2494"/><circle cx="79.1" cy="141.3" r="1.0" fill="#e16462"/><circle cx="77.4" cy="88.7" r="1.0" fill="#e16462"/><circle cx="97.1" cy="67.8" r="1.0" fill="#f9983e"/><circle cx="236.9" cy="53.2" r="1.0" fill="#fdb52e"/><circle cx="229.7" cy="78.3" r="1.0" fill="#e16462"/><circle cx="231.8" cy="49.8" r="1.0" fill="#fdc627"/><circle cx="72.8" cy="103.4" r="1.0" fill="#cc4778"/><circle cx="102.9" cy="68.4" r="1.0" fill="#f9983e"/><circle cx="199.7" cy="115.9" r="1.0" fill="#8606a6"/><circle cx="75.8" cy="103.8" r="1.0" fill="#cc4778"/><circle cx="225.5" cy="86.6" r="1.0" fill="#ed7a52"/><circle cx="50.8" cy="96.1" r="1.0" fill="#20068f"/><circle cx="257.5" cy="53.5" r="1.0" fill="#fdc627"/><circle cx="60.9" cy="112.1" r="1.0" fill="#8606a6"/><circle cx="64.8" cy="117.6" r="1.0" fill="#ab2494"/><circle cx="81.2" cy="108.3" r="1.0" fill="#e56a5d"/><circle cx="239.1" cy="61.8" r="1.0" fill="#fdae32"/><circle cx="222.4" cy="100.5" r="1.0" fill="#cc4778"/><circle cx="63.3" cy="128.5" r="1.0" fill="#b83289"/><circle cx="65.4" cy="122.3" r="1.0" fill="#be3885"/><circle cx="248.1" cy="60.1" r="1.0" fill="#fba238"/><circle cx="76.6" cy="141.8" r="1.0" fill="#e16462"/><circle cx="60.5" cy="113.2" r="1.0" fill="#7e03a8"/><circle cx="62.7" cy="117.9" r="1.0" fill="#ab2494"/><circle cx="271.4" cy="205.5" r="1.0" fill="#f8df25"/><circle cx="240.7" cy="61.6" r="1.0" fill="#f79044"/><circle cx="199.6" cy="110.1" r="1.0" fill="#5601a4"/><circle cx="214.3" cy="127.8" r="1.0" fill="#ab2494"/><circle cx="61.8" cy="112.8" r="1.0" fill="#8606a6"/><circle cx="67.6" cy="73.2" r="1.0" fill="#cc4778"/><circle cx="80.8" cy="96.7" r="1.0" fill="#d35171"/><circle cx="237.7" cy="62.0" r="1.0" fill="#fba139"/><circle cx="90.1" cy="85.4" r="1.0" fill="#8a8a8a"/><circle cx="231.9" cy="75.0" r="1.0" fill="#ed7a52"/><circle cx="61.0" cy="120.4" r="1.0" fill="#8606a6"/><circle cx="63.4" cy="81.8" r="1.0" fill="#8606a6"/><circle cx="254.5" cy="57.7" r="1.0" fill="#fcd025"/><circle cx="211.8" cy="75.3" r="1.0" fill="#ab2494"/><circle cx="69.3" cy="125.6" r="1.0" fill="#ae2892"/><circle cx="68.2" cy="125.8" r="1.0" fill="#b6308b"/><circle cx="213.4" cy="125.8" r="1.0" fill="#8606a6"/><circle cx="239.8" cy="166.1" r="1.0" fill="#fdae32"/><circle cx="251.0" cy="64.2" r="1.0" fill="#fa9c3c"/><circle cx="226.0" cy="65.3" r="1.0" fill="#f9983e"/><circle cx="71.1" cy="138.4" r="1.0" fill="#cc4778"/><circle cx="234.7" cy="40.9" r="1.0" fill="#ed7a52"/><circle cx="230.6" cy="157.7" r="1.0" fill="#ab2494"/><circle cx="91.7" cy="87.0" r="1.0" fill="#ed7a52"/><circle cx="267.8" cy="51.8" r="1.0" fill="#f9983e"/><circle cx="57.0" cy="117.1" r="1.0" fill="#6001a6"/><circle cx="219.4" cy="100.4" r="1.0" fill="#e16462"/><circle cx="91.2" cy="82.9" r="1.0" fill="#ed7a52"/><circle cx="220.6" cy="91.6" r="1.0" fill="#e16462"/><circle cx="248.5" cy="68.1" r="1.0" fill="#f79143"/><circle cx="107.4" cy="64.9" r="1.0" fill="#8a8a8a"/><circle cx="53.7" cy="106.6" r="1.0" fill="#7201a8"/><circle cx="265.6" cy="201.3" r="1.0" fill="#f8df25"/><circle cx="104.2" cy="66.3" r="1.0" fill="#f9983e"/><circle cx="228.2" cy="84.9" r="1.0" fill="#ed7a52"/><circle cx="247.5" cy="52.9" r="1.0" fill="#febe2a"/><circle cx="54.3" cy="122.3" r="1.0" fill="#7501a8"/><circle cx="58.5" cy="115.8" r="1.0" fill="#8606a6"/><circle cx="190.9" cy="108.7" r="1.0" fill="#20068f"/><circle cx="56.8" cy="124.6" r="1.0" fill="#8606a6"/><circle cx="203.2" cy="72.3" r="1.0" fill="#8606a6"/><circle cx="206.8" cy="79.2" r="1.0" fill="#8606a6"/><circle cx="84.6" cy="103.4" r="1.0" fill="#e16462"/><circle cx="55.5" cy="122.9" r="1.0" fill="#8606a6"/><circle cx="77.0" cy="96.7" r="1.0" fill="#cc4778"/><circle cx="196.3" cy="114.2" r="1.0" fill="#20068f"/><circle cx="87.1" cy="93.3" r="1.0" fill="#e16462"/><circle cx="253.5" cy="45.5" r="1.0" fill="#fdc627"/><circle cx="238.3" cy="73.2" r="1.0" fill="#f9983e"/><circle cx="74.5" cy="135.9" r="1.0" fill="#cc4778"/><circle cx="251.7" cy="55.2" r="1.0" fill="#fdcb26"/><circle cx="245.7" cy="53.5" r="1.0" fill="#feba2c"/><circle cx="214.3" cy="95.4" r="1.0" fill="#e16462"/><circle cx="233.1" cy="159.5" r="1.0" fill="#fdae32"/><circle cx="76.9" cy="72.0" r="1.0" fill="#cc4778"/><circle cx="235.0" cy="38.4" r="1.0" fill="#e16462"/><circle cx="240.9" cy="67.5" r="1.0" fill="#fba139"/><circle cx="242.4" cy="180.0" r="1.0" fill="#fcce25"/><circle cx="82.4" cy="68.0" r="1.0" fill="#cc4778"/><circle cx="248.3" cy="66.3" r="1.0" fill="#febd2a"/><circle cx="229.3" cy="87.5" r="1.0" fill="#e16462"/><circle cx="80.4" cy="87.0" r="1.0" fill="#e16462"/><circle cx="232.4" cy="59.8" r="1.0" fill="#f79342"/><circle cx="246.1" cy="61.4" r="1.0" fill="#febd2a"/><circle cx="60.2" cy="118.3" r="1.0" fill="#8606a6"/><circle cx="250.3" cy="46.7" r="1.0" fill="#f9983e"/><circle cx="81.9" cy="99.2" r="1.0" fill="#d9586a"/><circle cx="215.2" cy="126.1" r="1.0" fill="#ab2494"/><circle cx="86.1" cy="97.4" r="1.0" fill="#e16462"/><circle cx="244.2" cy="58.4" r="1.0" fill="#fdb22f"/><circle cx="243.5" cy="55.3" r="1.0" fill="#f99a3e"/><circle cx="233.4" cy="56.7" r="1.0" fill="#f79143"/><circle cx="237.8" cy="174.1" r="1.0" fill="#fdae32"/><circle cx="56.3" cy="117.2" r="1.0" fill="#6600a7"/><circle cx="257.6" cy="55.5" r="1.0" fill="#fdc627"/><circle cx="238.9" cy="44.6" r="1.0" fill="#ed7a52"/><circle cx="77.9" cy="116.8" r="1.0" fill="#cc4778"/><circle cx="85.0" cy="116.4" r="1.0" fill="#ed7a52"/><circle cx="78.4" cy="117.7" r="1.0" fill="#e16462"/><circle cx="242.7" cy="67.5" r="1.0" fill="#fba238"/><circle cx="56.6" cy="113.9" r="1.0" fill="#6c00a8"/><circle cx="252.5" cy="52.4" r="1.0" fill="#fad824"/><circle cx="72.7" cy="79.9" r="1.0" fill="#cc4778"/><circle cx="255.2" cy="57.5" r="1.0" fill="#fdc527"/><circle cx="86.7" cy="144.9" r="1.0" fill="#ed7a52"/><circle cx="239.8" cy="173.2" r="1.0" fill="#fdae32"/><circle cx="96.3" cy="83.8" r="1.0" fill="#ed7a52"/><circle cx="228.3" cy="63.0" r="1.0" fill="#ed7a52"/><circle cx="243.9" cy="63.6" r="1.0" fill="#fba139"/><circle cx="230.6" cy="174.1" r="1.0" fill="#fdae32"/><circle cx="211.7" cy="35.1" r="1.0" fill="#8606a6"/><circle cx="252.9" cy="51.7" r="1.0" fill="#fdc627"/><circle cx="249.5" cy="184.6" r="1.0" fill="#8a8a8a"/><circle cx="53.5" cy="108.6" r="1.0" fill="#5302a3"/><circle cx="61.8" cy="122.5" r="1.0" fill="#ab2494"/><circle cx="241.9" cy="54.5" r="1.0" fill="#feb72d"/><circle cx="53.0" cy="148.0" r="1.0" fill="#20068f"/><circle cx="225.8" cy="101.3" r="1.0" fill="#8a8a8a"/><circle cx="245.3" cy="185.4" r="1.0" fill="#f58b47"/><circle cx="49.1" cy="108.3" r="1.0" fill="#20068f"/><circle cx="77.4" cy="104.1" r="1.0" fill="#d7566c"/><circle cx="239.9" cy="172.8" r="1.0" fill="#fdae32"/><circle cx="89.5" cy="94.4" r="1.0" fill="#f9983e"/><circle cx="61.7" cy="104.9" r="1.0" fill="#ab2494"/><circle cx="100.4" cy="73.0" r="1.0" fill="#f9983e"/><circle cx="239.0" cy="44.6" r="1.0" fill="#ed7a52"/><circle cx="237.5" cy="97.1" r="1.0" fill="#ed7a52"/><circle cx="196.0" cy="61.7" r="1.0" fill="#8606a6"/><circle cx="67.7" cy="120.4" r="1.0" fill="#cc4778"/><circle cx="233.5" cy="53.5" r="1.0" fill="#f79044"/><circle cx="85.8" cy="102.1" r="1.0" fill="#ed7a52"/><circle cx="65.1" cy="131.9" r="1.0" fill="#ac2694"/><circle cx="60.3" cy="110.5" r="1.0" fill="#8d0ba5"/><circle cx="195.9" cy="121.0" r="1.0" fill="#20068f"/><circle cx="68.6" cy="124.9" r="1.0" fill="#a51f99"/><circle cx="238.8" cy="90.4" r="1.0" fill="#ed7a52"/><circle cx="71.6" cy="98.8" r="1.0" fill="#ab2494"/><circle cx="86.7" cy="115.5" r="1.0" fill="#ed7a52"/><circle cx="64.4" cy="122.9" r="1.0" fill="#cc4778"/><circle cx="225.7" cy="90.0" r="1.0" fill="#e16462"/><circle cx="81.3" cy="109.7" r="1.0" fill="#e4695e"/><circle cx="226.8" cy="176.2" r="1.0" fill="#fcce25"/><circle cx="64.1" cy="121.4" r="1.0" fill="#c23c81"/><circle cx="253.0" cy="58.5" r="1.0" fill="#fdca26"/><circle cx="63.8" cy="114.5" r="1.0" fill="#a51f99"/><circle cx="68.6" cy="131.3" r="1.0" fill="#c23c81"/><circle cx="92.1" cy="89.2" r="1.0" fill="#ed7a52"/><circle cx="236.8" cy="149.4" r="1.0" fill="#cc4778"/><circle cx="71.7" cy="126.9" r="1.0" fill="#ab2494"/><circle cx="86.8" cy="149.3" r="1.0" fill="#f9983e"/><circle cx="204.9" cy="208.1" r="1.0" fill="#8a8a8a"/><circle cx="38.5" cy="183.7" r="1.0" fill="#20068f"/><circle cx="201.6" cy="55.0" r="1.0" fill="#8606a6"/><circle cx="71.4" cy="135.4" r="1.0" fill="#b6308b"/><circle cx="231.4" cy="85.0" r="1.0" fill="#ed7a52"/><circle cx="81.8" cy="161.4" r="1.0" fill="#e16462"/><circle cx="212.2" cy="134.5" r="1.0" fill="#ab2494"/><circle cx="214.3" cy="47.5" r="1.0" fill="#8606a6"/><circle cx="227.7" cy="79.4" r="1.0" fill="#ed7a52"/><circle cx="85.8" cy="68.6" r="1.0" fill="#e16462"/><circle cx="244.5" cy="60.7" r="1.0" fill="#f58c46"/><circle cx="234.3" cy="40.4" r="1.0" fill="#e16462"/><circle cx="83.4" cy="146.6" r="1.0" fill="#e16462"/><circle cx="251.5" cy="62.1" r="1.0" fill="#fdae32"/><circle cx="261.0" cy="49.2" r="1.0" fill="#f9983e"/><circle cx="254.5" cy="55.7" r="1.0" fill="#f9dc24"/><circle cx="41.3" cy="182.9" r="1.0" fill="#20068f"/><circle cx="68.6" cy="123.3" r="1.0" fill="#cc4778"/><circle cx="87.0" cy="76.6" r="1.0" fill="#e16462"/><circle cx="268.2" cy="54.3" r="1.0" fill="#ed7a52"/><circle cx="231.9" cy="78.8" r="1.0" fill="#ed7a52"/><circle cx="288.0" cy="209.1" r="1.0" fill="#f8df25"/><circle cx="70.4" cy="128.1" r="1.0" fill="#b42e8d"/><circle cx="250.5" cy="30.6" r="1.0" fill="#f9983e"/><circle cx="65.5" cy="126.6" r="1.0" fill="#cb4679"/><circle cx="234.3" cy="53.3" r="1.0" fill="#f9983e"/><circle cx="240.4" cy="56.5" r="1.0" fill="#fa9c3c"/><circle cx="57.2" cy="123.5" r="1.0" fill="#7701a8"/><circle cx="68.7" cy="124.1" r="1.0" fill="#ac2694"/><circle cx="67.7" cy="127.3" r="1.0" fill="#b22b8f"/><circle cx="77.9" cy="110.5" r="1.0" fill="#cc4778"/><circle cx="94.7" cy="62.4" r="1.0" fill="#f9983e"/><circle cx="59.5" cy="114.6" r="1.0" fill="#6f00a8"/><circle cx="238.9" cy="63.8" r="1.0" fill="#f68f44"/><circle cx="68.6" cy="133.4" r="1.0" fill="#cc4778"/><circle cx="256.9" cy="41.6" r="1.0" fill="#fdc627"/><circle cx="67.7" cy="125.9" r="1.0" fill="#cc4778"/><circle cx="108.4" cy="62.5" r="1.0" fill="#f9983e"/><circle cx="250.5" cy="63.2" r="1.0" fill="#f99a3e"/><circle cx="238.3" cy="55.2" r="1.0" fill="#fb9f3a"/><circle cx="232.8" cy="54.0" r="1.0" fill="#fba238"/><circle cx="236.1" cy="175.7" r="1.0" fill="#fdae32"/><circle cx="75.3" cy="98.1" r="1.0" fill="#da5b69"/><circle cx="55.2" cy="112.3" r="1.0" fill="#5b01a5"/><circle cx="213.5" cy="73.2" r="1.0" fill="#8606a6"/><circle cx="88.7" cy="82.1" r="1.0" fill="#ed7a52"/><circle cx="239.9" cy="58.4" r="1.0" fill="#f48948"/><circle cx="232.6" cy="66.6" r="1.0" fill="#e16462"/><circle cx="256.4" cy="188.4" r="1.0" fill="#feb72d"/><circle cx="263.1" cy="47.4" r="1.0" fill="#8a8a8a"/><circle cx="247.1" cy="51.0" r="1.0" fill="#fdb130"/><circle cx="85.0" cy="101.3" r="1.0" fill="#e16462"/><circle cx="84.8" cy="106.6" r="1.0" fill="#e16462"/><circle cx="218.9" cy="109.7" r="1.0" fill="#ab2494"/><circle cx="244.1" cy="54.8" r="1.0" fill="#feba2c"/><circle cx="237.6" cy="60.4" r="1.0" fill="#fb9f3a"/><circle cx="224.3" cy="65.2" r="1.0" fill="#f9983e"/><circle cx="50.9" cy="120.0" r="1.0" fill="#20068f"/><circle cx="222.7" cy="100.8" r="1.0" fill="#e16462"/><circle cx="75.0" cy="124.0" r="1.0" fill="#cc4778"/><circle cx="227.9" cy="94.6" r="1.0" fill="#8a8a8a"/><circle cx="84.2" cy="99.6" r="1.0" fill="#e16462"/><circle cx="250.4" cy="60.6" r="1.0" fill="#febe2a"/><circle cx="261.0" cy="196.6" r="1.0" fill="#f9dc24"/><circle cx="74.2" cy="102.1" r="1.0" fill="#c7427c"/><circle cx="222.7" cy="93.3" r="1.0" fill="#e16462"/><circle cx="234.0" cy="56.3" r="1.0" fill="#f58c46"/><circle cx="108.7" cy="62.4" r="1.0" fill="#f9983e"/><circle cx="48.6" cy="82.7" r="1.0" fill="#20068f"/><circle cx="200.9" cy="108.0" r="1.0" fill="#8606a6"/><circle cx="231.4" cy="166.9" r="1.0" fill="#fdae32"/><circle cx="233.9" cy="85.4" r="1.0" fill="#ed7a52"/><circle cx="288.0" cy="60.8" r="1.0" fill="#fdc627"/><circle cx="240.9" cy="65.1" r="1.0" fill="#fba238"/><circle cx="56.0" cy="115.4" r="1.0" fill="#8606a6"/><circle cx="216.8" cy="111.8" r="1.0" fill="#ab2494"/><circle cx="252.1" cy="52.2" r="1.0" fill="#fca934"/><circle cx="77.9" cy="104.2" r="1.0" fill="#cc4778"/><circle cx="113.9" cy="69.2" r="1.0" fill="#8a8a8a"/><circle cx="54.2" cy="115.3" r="1.0" fill="#7701a8"/><circle cx="93.8" cy="88.0" r="1.0" fill="#ed7a52"/><circle cx="208.9" cy="86.6" r="1.0" fill="#cc4778"/><circle cx="56.1" cy="114.3" r="1.0" fill="#8104a7"/><circle cx="80.0" cy="108.8" r="1.0" fill="#e16462"/><circle cx="252.2" cy="62.0" r="1.0" fill="#febb2b"/><circle cx="84.3" cy="100.4" r="1.0" fill="#e16462"/><circle cx="249.6" cy="55.7" r="1.0" fill="#feb82c"/><circle cx="229.5" cy="69.7" r="1.0" fill="#ed7a52"/><circle cx="57.5" cy="128.6" r="1.0" fill="#ab2494"/><circle cx="98.4" cy="73.7" r="1.0" fill="#f9983e"/><circle cx="220.6" cy="97.9" r="1.0" fill="#e16462"/><circle cx="44.1" cy="98.0" r="1.0" fill="#20068f"/><circle cx="45.6" cy="87.4" r="1.0" fill="#20068f"/><circle cx="68.0" cy="131.4" r="1.0" fill="#bd3786"/><circle cx="81.3" cy="144.1" r="1.0" fill="#e16462"/><circle cx="69.4" cy="135.7" r="1.0" fill="#b6308b"/><circle cx="227.9" cy="65.3" r="1.0" fill="#f9983e"/><circle cx="72.4" cy="135.0" r="1.0" fill="#cc4778"/><circle cx="238.9" cy="74.5" r="1.0" fill="#f9983e"/><circle cx="216.8" cy="110.9" r="1.0" fill="#cc4778"/><circle cx="229.8" cy="123.3" r="1.0" fill="#ed7a52"/><circle cx="214.3" cy="66.1" r="1.0" fill="#ab2494"/><circle cx="253.3" cy="63.5" r="1.0" fill="#fba139"/><circle cx="249.4" cy="64.4" r="1.0" fill="#fba139"/><circle cx="79.2" cy="133.2" r="1.0" fill="#e16462"/><circle cx="232.8" cy="57.9" r="1.0" fill="#f58b47"/><circle cx="78.3" cy="138.8" r="1.0" fill="#e16462"/><circle cx="236.9" cy="168.2" r="1.0" fill="#ab2494"/><circle cx="251.3" cy="63.0" r="1.0" fill="#febd2a"/><circle cx="94.2" cy="77.4" r="1.0" fill="#f9983e"/><circle cx="213.9" cy="134.5" r="1.0" fill="#cc4778"/><circle cx="224.0" cy="92.1" r="1.0" fill="#cc4778"/><circle cx="70.3" cy="130.8" r="1.0" fill="#cc4778"/><circle cx="62.7" cy="112.6" r="1.0" fill="#8e0ca4"/><circle cx="81.6" cy="141.3" r="1.0" fill="#e16462"/><circle cx="63.8" cy="122.3" r="1.0" fill="#be3885"/><circle cx="69.0" cy="90.8" r="1.0" fill="#ab2494"/><circle cx="257.7" cy="187.4" r="1.0" fill="#8a8a8a"/><circle cx="199.0" cy="79.4" r="1.0" fill="#5601a4"/><circle cx="240.2" cy="52.4" r="1.0" fill="#f79044"/><circle cx="233.7" cy="55.7" r="1.0" fill="#fca537"/><circle cx="72.9" cy="103.5" r="1.0" fill="#d14e72"/><circle cx="42.1" cy="180.3" r="1.0" fill="#20068f"/><circle cx="72.5" cy="129.9" r="1.0" fill="#cc4778"/><circle cx="93.0" cy="90.0" r="1.0" fill="#ed7a52"/><circle cx="223.7" cy="90.8" r="1.0" fill="#e16462"/><circle cx="266.5" cy="189.7" r="1.0" fill="#8a8a8a"/><circle cx="211.0" cy="64.4" r="1.0" fill="#ab2494"/><circle cx="53.4" cy="115.8" r="1.0" fill="#5601a4"/><circle cx="246.4" cy="65.9" r="1.0" fill="#f79143"/><circle cx="71.6" cy="119.3" r="1.0" fill="#ab2494"/><circle cx="76.2" cy="108.8" r="1.0" fill="#cc4778"/><circle cx="61.8" cy="50.6" r="1.0" fill="#8606a6"/><circle cx="249.5" cy="57.2" r="1.0" fill="#fdae32"/><circle cx="65.0" cy="123.7" r="1.0" fill="#ae2892"/><circle cx="58.9" cy="114.7" r="1.0" fill="#6900a8"/><circle cx="79.5" cy="95.9" r="1.0" fill="#e16462"/><circle cx="246.6" cy="62.2" r="1.0" fill="#f79044"/><circle cx="60.2" cy="124.6" r="1.0" fill="#ab2494"/><circle cx="70.5" cy="135.3" r="1.0" fill="#aa2395"/><circle cx="44.9" cy="100.6" r="1.0" fill="#20068f"/><circle cx="231.8" cy="77.3" r="1.0" fill="#ed7a52"/><circle cx="290.5" cy="61.2" r="1.0" fill="#f9983e"/><circle cx="82.1" cy="96.5" r="1.0" fill="#d5546e"/><circle cx="79.5" cy="98.8" r="1.0" fill="#db5c68"/><circle cx="240.8" cy="59.7" r="1.0" fill="#fca835"/><circle cx="229.9" cy="87.9" r="1.0" fill="#ed7a52"/><circle cx="243.5" cy="61.7" r="1.0" fill="#fb9f3a"/><circle cx="67.6" cy="79.3" r="1.0" fill="#ab2494"/><circle cx="188.2" cy="191.8" r="1.0" fill="#20068f"/><circle cx="237.8" cy="65.2" r="1.0" fill="#ed7a52"/><circle cx="101.3" cy="69.7" r="1.0" fill="#f9983e"/><circle cx="63.6" cy="131.3" r="1.0" fill="#ab2494"/><circle cx="233.3" cy="58.3" r="1.0" fill="#f58c46"/><circle cx="70.6" cy="126.6" r="1.0" fill="#b7318a"/><circle cx="55.4" cy="117.9" r="1.0" fill="#5601a4"/><circle cx="246.9" cy="62.3" r="1.0" fill="#f79044"/><circle cx="240.3" cy="64.0" r="1.0" fill="#fb9f3a"/><circle cx="234.1" cy="55.8" r="1.0" fill="#f79044"/><circle cx="216.4" cy="92.9" r="1.0" fill="#e16462"/><circle cx="237.8" cy="58.9" r="1.0" fill="#fa9c3c"/><circle cx="190.0" cy="99.5" r="1.0" fill="#20068f"/><circle cx="202.2" cy="115.9" r="1.0" fill="#8606a6"/><circle cx="234.7" cy="74.1" r="1.0" fill="#f9983e"/><circle cx="50.5" cy="111.6" r="1.0" fill="#4903a0"/><circle cx="232.2" cy="153.4" r="1.0" fill="#cc4778"/><circle cx="56.0" cy="120.4" r="1.0" fill="#8606a6"/><circle cx="214.7" cy="136.6" r="1.0" fill="#ab2494"/><circle cx="245.1" cy="52.3" r="1.0" fill="#fca636"/><circle cx="232.3" cy="186.7" r="1.0" fill="#f9dc24"/><circle cx="195.9" cy="122.6" r="1.0" fill="#20068f"/><circle cx="212.2" cy="66.5" r="1.0" fill="#ab2494"/><circle cx="234.8" cy="172.0" r="1.0" fill="#fdae32"/><circle cx="230.2" cy="174.1" r="1.0" fill="#fdae32"/><circle cx="75.7" cy="82.1" r="1.0" fill="#cc4778"/><circle cx="264.0" cy="67.3" r="1.0" fill="#fdc627"/><circle cx="59.8" cy="128.0" r="1.0" fill="#ab2494"/><circle cx="241.7" cy="61.9" r="1.0" fill="#f58b47"/><circle cx="211.4" cy="136.6" r="1.0" fill="#ab2494"/><circle cx="100.9" cy="60.7" r="1.0" fill="#8a8a8a"/><circle cx="87.1" cy="149.5" r="1.0" fill="#f9983e"/><circle cx="233.5" cy="156.4" r="1.0" fill="#fdae32"/><circle cx="74.1" cy="87.0" r="1.0" fill="#cc4778"/><circle cx="52.9" cy="110.8" r="1.0" fill="#5601a4"/><circle cx="238.8" cy="57.0" r="1.0" fill="#fba139"/><circle cx="274.1" cy="50.1" r="1.0" fill="#8a8a8a"/><circle cx="56.7" cy="114.5" r="1.0" fill="#7801a8"/><circle cx="245.4" cy="35.4" r="1.0" fill="#f9983e"/><circle cx="213.1" cy="64.0" r="1.0" fill="#ab2494"/><circle cx="203.5" cy="133.9" r="1.0" fill="#8606a6"/><circle cx="226.9" cy="87.1" r="1.0" fill="#f9983e"/><circle cx="251.5" cy="58.0" r="1.0" fill="#fca537"/><circle cx="206.4" cy="64.4" r="1.0" fill="#ab2494"/><circle cx="78.7" cy="112.2" r="1.0" fill="#cc4778"/><circle cx="69.6" cy="81.0" r="1.0" fill="#cc4778"/><circle cx="74.7" cy="97.0" r="1.0" fill="#d14e72"/><circle cx="61.0" cy="132.5" r="1.0" fill="#ab2494"/><circle cx="63.6" cy="110.5" r="1.0" fill="#a21d9a"/><circle cx="247.7" cy="61.4" r="1.0" fill="#fba238"/><circle cx="80.6" cy="103.1" r="1.0" fill="#da5b69"/><circle cx="59.4" cy="122.7" r="1.0" fill="#8405a7"/><circle cx="88.4" cy="144.5" r="1.0" fill="#ed7a52"/><circle cx="72.9" cy="130.4" r="1.0" fill="#b02991"/><circle cx="73.8" cy="132.8" r="1.0" fill="#cc4778"/><circle cx="76.2" cy="139.2" r="1.0" fill="#e16462"/><circle cx="201.4" cy="113.8" r="1.0" fill="#ab2494"/><circle cx="67.2" cy="123.4" r="1.0" fill="#b32c8e"/><circle cx="255.7" cy="53.9" r="1.0" fill="#f8df25"/><circle cx="187.1" cy="92.8" r="1.0" fill="#20068f"/><circle cx="63.5" cy="115.8" r="1.0" fill="#ab2494"/><circle cx="235.2" cy="38.4" r="1.0" fill="#f9983e"/><circle cx="244.4" cy="58.6" r="1.0" fill="#fdb22f"/><circle cx="263.6" cy="59.4" r="1.0" fill="#f9983e"/><circle cx="80.4" cy="146.8" r="1.0" fill="#e16462"/><circle cx="239.8" cy="57.2" r="1.0" fill="#f48948"/><circle cx="220.2" cy="93.7" r="1.0" fill="#ed7a52"/><circle cx="83.7" cy="101.3" r="1.0" fill="#e16462"/><circle cx="56.2" cy="109.8" r="1.0" fill="#7a02a8"/><circle cx="59.3" cy="113.3" r="1.0" fill="#8606a6"/><circle cx="71.0" cy="87.2" r="1.0" fill="#ab2494"/><circle cx="75.5" cy="120.6" r="1.0" fill="#cc4778"/><circle cx="234.8" cy="161.5" r="1.0" fill="#ab2494"/><circle cx="55.1" cy="122.2" r="1.0" fill="#7701a8"/><circle cx="64.4" cy="133.4" r="1.0" fill="#ab2494"/><circle cx="241.3" cy="57.2" r="1.0" fill="#fa9c3c"/><circle cx="233.3" cy="60.8" r="1.0" fill="#f9983e"/><circle cx="252.3" cy="61.2" r="1.0" fill="#fca934"/><circle cx="58.7" cy="109.1" r="1.0" fill="#6900a8"/><circle cx="62.3" cy="125.8" r="1.0" fill="#ad2793"/><circle cx="205.0" cy="79.2" r="1.0" fill="#8606a6"/><circle cx="253.9" cy="189.7" r="1.0" fill="#feb72d"/><circle cx="246.4" cy="37.7" r="1.0" fill="#f9983e"/><circle cx="196.5" cy="90.1" r="1.0" fill="#8606a6"/><circle cx="186.8" cy="89.8" r="1.0" fill="#20068f"/><circle cx="61.0" cy="121.8" r="1.0" fill="#9814a0"/><circle cx="85.5" cy="147.4" r="1.0" fill="#ed7a52"/><circle cx="235.2" cy="57.8" r="1.0" fill="#f3854b"/><circle cx="231.6" cy="68.0" r="1.0" fill="#f9983e"/><circle cx="77.4" cy="94.2" r="1.0" fill="#cc4778"/><circle cx="278.7" cy="56.4" r="1.0" fill="#fdc627"/><circle cx="215.1" cy="126.3" r="1.0" fill="#8606a6"/><circle cx="253.6" cy="58.8" r="1.0" fill="#fdac33"/><circle cx="55.0" cy="110.4" r="1.0" fill="#5601a4"/><circle cx="97.0" cy="66.3" r="1.0" fill="#f9983e"/><circle cx="225.5" cy="68.1" r="1.0" fill="#e16462"/><circle cx="233.5" cy="175.7" r="1.0" fill="#fdae32"/><circle cx="201.4" cy="118.4" r="1.0" fill="#8a8a8a"/><circle cx="246.5" cy="46.0" r="1.0" fill="#fdc627"/><circle cx="76.6" cy="115.5" r="1.0" fill="#cc4778"/><circle cx="245.0" cy="68.1" r="1.0" fill="#f79143"/><circle cx="102.6" cy="66.7" r="1.0" fill="#f9983e"/><circle cx="239.3" cy="71.2" r="1.0" fill="#ed7a52"/><circle cx="208.5" cy="47.2" r="1.0" fill="#8606a6"/><circle cx="74.5" cy="141.3" r="1.0" fill="#e16462"/><circle cx="254.0" cy="61.3" r="1.0" fill="#fb9f3a"/><circle cx="66.5" cy="133.8" r="1.0" fill="#ab2494"/><circle cx="232.6" cy="155.5" r="1.0" fill="#fdae32"/><circle cx="54.0" cy="110.5" r="1.0" fill="#6600a7"/><circle cx="240.3" cy="63.8" r="1.0" fill="#fba238"/><circle cx="308.1" cy="63.2" r="1.0" fill="#ed7a52"/><circle cx="258.5" cy="51.0" r="1.0" fill="#fdc627"/><circle cx="70.7" cy="143.4" r="1.0" fill="#ab2494"/><circle cx="48.3" cy="111.8" r="1.0" fill="#20068f"/><circle cx="83.7" cy="93.9" r="1.0" fill="#e26660"/><circle cx="243.1" cy="69.1" r="1.0" fill="#fca338"/><circle cx="250.0" cy="64.3" r="1.0" fill="#febd2a"/><circle cx="233.4" cy="88.0" r="1.0" fill="#e16462"/><circle cx="81.6" cy="92.9" r="1.0" fill="#e16462"/><circle cx="102.6" cy="72.8" r="1.0" fill="#f9983e"/><circle cx="276.2" cy="62.6" r="1.0" fill="#f9983e"/><circle cx="238.0" cy="54.6" r="1.0" fill="#feb82c"/><circle cx="72.4" cy="85.4" r="1.0" fill="#cc4778"/><circle cx="264.6" cy="40.7" r="1.0" fill="#fdc627"/><circle cx="84.1" cy="82.1" r="1.0" fill="#e16462"/><circle cx="252.9" cy="190.1" r="1.0" fill="#f9dc24"/><circle cx="68.6" cy="103.4" r="1.0" fill="#ab2494"/><circle cx="213.1" cy="108.4" r="1.0" fill="#cc4778"/><circle cx="45.8" cy="109.0" r="1.0" fill="#20068f"/><circle cx="238.4" cy="34.4" r="1.0" fill="#f9983e"/><circle cx="81.6" cy="103.4" r="1.0" fill="#e16462"/><circle cx="70.7" cy="111.8" r="1.0" fill="#cc4778"/><circle cx="56.7" cy="109.5" r="1.0" fill="#8606a6"/><circle cx="90.4" cy="93.0" r="1.0" fill="#ed7a52"/><circle cx="243.1" cy="64.8" r="1.0" fill="#f9973f"/><circle cx="246.8" cy="68.2" r="1.0" fill="#fb9f3a"/><circle cx="84.9" cy="66.7" r="1.0" fill="#ed7a52"/><circle cx="235.0" cy="67.9" r="1.0" fill="#f9983e"/><circle cx="213.8" cy="50.2" r="1.0" fill="#9a169f"/><circle cx="80.1" cy="97.5" r="1.0" fill="#d6556d"/><circle cx="58.8" cy="113.1" r="1.0" fill="#8a09a5"/><circle cx="67.2" cy="124.4" r="1.0" fill="#b32c8e"/><circle cx="83.7" cy="144.3" r="1.0" fill="#ed7a52"/><circle cx="234.7" cy="55.7" r="1.0" fill="#fca537"/><circle cx="82.5" cy="82.8" r="1.0" fill="#e16462"/><circle cx="87.9" cy="71.1" r="1.0" fill="#ed7a52"/><circle cx="254.6" cy="188.8" r="1.0" fill="#f9dc24"/><circle cx="290.1" cy="56.3" r="1.0" fill="#8a8a8a"/><circle cx="100.3" cy="63.0" r="1.0" fill="#f9983e"/><circle cx="244.2" cy="57.5" r="1.0" fill="#fba139"/><circle cx="90.8" cy="87.6" r="1.0" fill="#ed7a52"/><circle cx="229.3" cy="161.7" r="1.0" fill="#fdae32"/><circle cx="195.3" cy="90.1" r="1.0" fill="#8606a6"/><circle cx="82.1" cy="147.9" r="1.0" fill="#e16462"/><circle cx="90.9" cy="146.6" r="1.0" fill="#f9983e"/><circle cx="46.7" cy="112.4" r="1.0" fill="#20068f"/><circle cx="227.4" cy="64.0" r="1.0" fill="#ed7a52"/><circle cx="47.4" cy="196.3" r="1.0" fill="#20068f"/><circle cx="229.7" cy="122.9" r="1.0" fill="#ed7a52"/><circle cx="82.5" cy="101.3" r="1.0" fill="#e16462"/><circle cx="225.3" cy="82.3" r="1.0" fill="#f9983e"/><circle cx="89.5" cy="68.6" r="1.0" fill="#ed7a52"/><circle cx="235.3" cy="62.6" r="1.0" fill="#f79143"/><circle cx="58.4" cy="108.1" r="1.0" fill="#6600a7"/><circle cx="70.3" cy="126.2" r="1.0" fill="#c23c81"/><circle cx="240.7" cy="184.2" r="1.0" fill="#fcce25"/><circle cx="96.7" cy="65.7" r="1.0" fill="#f9983e"/><circle cx="239.8" cy="67.2" r="1.0" fill="#fca934"/><circle cx="242.6" cy="68.2" r="1.0" fill="#fca835"/><circle cx="230.2" cy="84.5" r="1.0" fill="#e16462"/><circle cx="236.2" cy="58.5" r="1.0" fill="#fb9f3a"/><circle cx="242.0" cy="68.5" r="1.0" fill="#fca835"/><circle cx="242.7" cy="39.3" r="1.0" fill="#f9983e"/><circle cx="73.1" cy="100.2" r="1.0" fill="#c7427c"/><circle cx="248.8" cy="68.0" r="1.0" fill="#feb82c"/><circle cx="215.2" cy="100.8" r="1.0" fill="#e16462"/><circle cx="231.6" cy="76.9" r="1.0" fill="#ed7a52"/><circle cx="237.4" cy="55.9" r="1.0" fill="#fdb52e"/><circle cx="80.8" cy="140.7" r="1.0" fill="#e16462"/><circle cx="61.0" cy="115.4" r="1.0" fill="#8606a6"/><circle cx="66.7" cy="48.7" r="1.0" fill="#8606a6"/><circle cx="236.5" cy="68.5" r="1.0" fill="#e16462"/><circle cx="81.6" cy="148.9" r="1.0" fill="#ed7a52"/><circle cx="242.7" cy="58.0" r="1.0" fill="#fdaf31"/><circle cx="243.4" cy="65.7" r="1.0" fill="#fdaf31"/><circle cx="229.7" cy="69.0" r="1.0" fill="#f9983e"/><circle cx="82.4" cy="75.3" r="1.0" fill="#e16462"/><circle cx="64.7" cy="123.8" r="1.0" fill="#c9447a"/><circle cx="251.8" cy="190.1" r="1.0" fill="#feb72d"/><circle cx="245.4" cy="59.4" r="1.0" fill="#fdb42f"/><circle cx="86.3" cy="97.5" r="1.0" fill="#e16462"/><circle cx="235.2" cy="164.0" r="1.0" fill="#f58b47"/><circle cx="54.2" cy="113.3" r="1.0" fill="#5601a4"/><circle cx="100.4" cy="77.2" r="1.0" fill="#f9983e"/><circle cx="239.9" cy="176.2" r="1.0" fill="#f58b47"/><circle cx="255.3" cy="43.4" r="1.0" fill="#fdc627"/><circle cx="89.7" cy="140.7" r="1.0" fill="#e16462"/><circle cx="68.0" cy="129.5" r="1.0" fill="#b52f8c"/><circle cx="242.3" cy="169.9" r="1.0" fill="#fcce25"/><circle cx="90.5" cy="144.9" r="1.0" fill="#f9983e"/><circle cx="85.3" cy="78.7" r="1.0" fill="#e16462"/><circle cx="55.1" cy="117.5" r="1.0" fill="#5601a4"/><circle cx="67.7" cy="116.2" r="1.0" fill="#ab2494"/><circle cx="234.7" cy="77.5" r="1.0" fill="#ed7a52"/><circle cx="215.2" cy="90.8" r="1.0" fill="#8606a6"/><circle cx="187.0" cy="187.3" r="1.0" fill="#20068f"/><circle cx="233.0" cy="56.3" r="1.0" fill="#f89540"/><circle cx="252.7" cy="52.2" r="1.0" fill="#feb72d"/><circle cx="45.8" cy="111.6" r="1.0" fill="#20068f"/><circle cx="75.8" cy="107.1" r="1.0" fill="#cc4778"/><circle cx="248.5" cy="44.5" r="1.0" fill="#fdc627"/><circle cx="230.5" cy="157.8" r="1.0" fill="#cc4778"/><circle cx="65.7" cy="125.2" r="1.0" fill="#ad2793"/><circle cx="247.7" cy="54.7" r="1.0" fill="#fa9c3c"/><circle cx="228.4" cy="56.4" r="1.0" fill="#fdc627"/><circle cx="71.8" cy="100.2" r="1.0" fill="#ce4b75"/><circle cx="230.4" cy="106.0" r="1.0" fill="#e16462"/><circle cx="199.3" cy="111.3" r="1.0" fill="#8606a6"/><circle cx="245.6" cy="52.0" r="1.0" fill="#feb82c"/><circle cx="68.3" cy="124.5" r="1.0" fill="#c33d80"/><circle cx="85.4" cy="87.0" r="1.0" fill="#e16462"/><circle cx="236.4" cy="77.9" r="1.0" fill="#f9983e"/><circle cx="248.0" cy="59.6" r="1.0" fill="#fdaf31"/><circle cx="233.6" cy="59.1" r="1.0" fill="#f1814d"/><circle cx="56.8" cy="112.8" r="1.0" fill="#8606a6"/><circle cx="228.8" cy="53.4" r="1.0" fill="#ed7a52"/><circle cx="282.9" cy="52.4" r="1.0" fill="#f9983e"/><circle cx="186.6" cy="185.8" r="1.0" fill="#20068f"/><circle cx="69.9" cy="135.5" r="1.0" fill="#cc4778"/><circle cx="222.6" cy="115.6" r="1.0" fill="#e16462"/><circle cx="251.5" cy="36.1" r="1.0" fill="#f9983e"/><circle cx="186.3" cy="184.5" r="1.0" fill="#20068f"/><circle cx="232.2" cy="77.0" r="1.0" fill="#ed7a52"/><circle cx="81.6" cy="98.8" r="1.0" fill="#e16462"/><ellipse cx="216.8" cy="19.8" rx="4.9" ry="1.9" fill="none" stroke="#888" stroke-width="1.0"/><ellipse cx="241.2" cy="27.1" rx="2.2" ry="0.9" fill="none" stroke="#666" stroke-width="1.0"/><ellipse cx="239.4" cy="32.6" rx="3.6" ry="0.9" fill="none" stroke="#f28a3c" stroke-width="1.0"/><ellipse cx="239.4" cy="32.2" rx="4.0" ry="1.0" fill="none" stroke="#444" stroke-width="1.0"/><ellipse cx="255.4" cy="36.5" rx="2.8" ry="1.0" fill="none" stroke="#444" stroke-width="1.0"/><ellipse cx="275.8" cy="37.5" rx="5.0" ry="1.3" fill="none" stroke="#9a9a9a" stroke-width="1.0"/><ellipse cx="238.8" cy="39.6" rx="2.7" ry="1.0" fill="none" stroke="#666" stroke-width="1.0"/><ellipse cx="205.5" cy="43.9" rx="2.1" ry="2.9" fill="none" stroke="#8f1a9f" stroke-width="1.0"/><ellipse cx="215.1" cy="42.9" rx="3.3" ry="0.9" fill="#888"/><ellipse cx="216.4" cy="45.6" rx="3.3" ry="0.8" fill="none" stroke="#555" stroke-width="1.0"/><ellipse cx="210.9" cy="48.6" rx="3.4" ry="1.7" fill="#7c06a6"/><ellipse cx="222.5" cy="53.0" rx="7.0" ry="2.2" fill="none" stroke="#f9a03f" stroke-width="1.0"/><ellipse cx="243.0" cy="46.9" rx="2.2" ry="1.9" fill="none" stroke="#444" stroke-width="1.0"/><ellipse cx="239.8" cy="54.2" rx="5.8" ry="2.5" fill="none" stroke="#6a6a6a" stroke-width="1.0"/><ellipse cx="252.7" cy="54.8" rx="0.6" ry="1.5" fill="#777"/><ellipse cx="265.2" cy="57.4" rx="8.8" ry="3.3" fill="none" stroke="#fdc328" stroke-width="1.0"/><ellipse cx="269.4" cy="50.1" rx="1.2" ry="1.1" fill="none" stroke="#666" stroke-width="1.0"/><ellipse cx="263.1" cy="57.2" rx="2.0" ry="1.0" fill="none" stroke="#555" stroke-width="1.0"/><ellipse cx="286.7" cy="61.1" rx="8.5" ry="2.3" fill="none" stroke="#f9a03f" stroke-width="1.0"/><ellipse cx="286.7" cy="64.7" rx="6.3" ry="1.5" fill="none" stroke="#888" stroke-width="1.0"/><ellipse cx="292.0" cy="69.6" rx="3.0" ry="1.1" fill="none" stroke="#8a8a8a" stroke-width="1.0"/><ellipse cx="299.2" cy="70.3" rx="0.8" ry="2.2" fill="#f0d625"/><ellipse cx="256.0" cy="65.5" rx="5.5" ry="3.3" fill="none" stroke="#9a9a9a" stroke-width="1.0"/><ellipse cx="247.5" cy="74.7" rx="6.3" ry="1.9" fill="none" stroke="#f9a03f" stroke-width="1.0"/><ellipse cx="208.9" cy="86.6" rx="2.4" ry="4.6" fill="none" stroke="#d4487a" stroke-width="1.0"/><ellipse cx="224.4" cy="83.2" rx="1.5" ry="4.0" fill="none" stroke="#d4487a" stroke-width="1.0"/><ellipse cx="224.4" cy="76.9" rx="1.5" ry="1.0" fill="#999"/><ellipse cx="187.5" cy="80.2" rx="2.5" ry="0.8" fill="#2a0594"/><ellipse cx="194.6" cy="78.9" rx="2.1" ry="1.5" fill="none" stroke="#b02a90" stroke-width="1.0"/><ellipse cx="228.7" cy="106.0" rx="5.0" ry="1.7" fill="none" stroke="#e45a5b" stroke-width="1.0"/><ellipse cx="221.9" cy="104.6" rx="3.0" ry="1.2" fill="none" stroke="#f07f4f" stroke-width="1.0"/><ellipse cx="248.7" cy="36.2" rx="8.0" ry="1.2" fill="none" stroke="#f48f43" stroke-width="1.0"/><ellipse cx="250.0" cy="40.8" rx="7.0" ry="1.8" fill="none" stroke="#f48f43" stroke-width="1.0"/><ellipse cx="246.0" cy="34.6" rx="4.0" ry="1.3" fill="none" stroke="#f48f43" stroke-width="1.0"/><ellipse cx="250.1" cy="30.3" rx="2.0" ry="0.9" fill="#f48f43"/><ellipse cx="230.0" cy="58.8" rx="5.5" ry="1.7" fill="none" stroke="#f9a03f" stroke-width="1.0"/><ellipse cx="199.3" cy="122.8" rx="0.7" ry="2.8" fill="#9a9a9a" transform="rotate(30 199.3 122.8)"/></g>
<rect x="32.5" y="14.7" width="139.50" height="200.80" fill="none" stroke="#1a1a1a" stroke-width="1.4"/><line x1="32.5" y1="37.20" x2="36.80" y2="37.20" stroke="#1a1a1a" stroke-width="1.2"/><line x1="32.5" y1="73.55" x2="36.80" y2="73.55" stroke="#1a1a1a" stroke-width="1.2"/><line x1="32.5" y1="109.90" x2="36.80" y2="109.90" stroke="#1a1a1a" stroke-width="1.2"/><line x1="32.5" y1="146.25" x2="36.80" y2="146.25" stroke="#1a1a1a" stroke-width="1.2"/><line x1="32.5" y1="182.60" x2="36.80" y2="182.60" stroke="#1a1a1a" stroke-width="1.2"/><line x1="51.85" y1="215.5" x2="51.85" y2="211.20" stroke="#1a1a1a" stroke-width="1.2"/><line x1="97.85" y1="215.5" x2="97.85" y2="211.20" stroke="#1a1a1a" stroke-width="1.2"/><line x1="143.85" y1="215.5" x2="143.85" y2="211.20" stroke="#1a1a1a" stroke-width="1.2"/>
<rect x="177.0" y="14.7" width="139.40" height="200.80" fill="none" stroke="#1a1a1a" stroke-width="1.4"/><line x1="177.0" y1="37.20" x2="181.30" y2="37.20" stroke="#1a1a1a" stroke-width="1.2"/><line x1="177.0" y1="73.55" x2="181.30" y2="73.55" stroke="#1a1a1a" stroke-width="1.2"/><line x1="177.0" y1="109.90" x2="181.30" y2="109.90" stroke="#1a1a1a" stroke-width="1.2"/><line x1="177.0" y1="146.25" x2="181.30" y2="146.25" stroke="#1a1a1a" stroke-width="1.2"/><line x1="177.0" y1="182.60" x2="181.30" y2="182.60" stroke="#1a1a1a" stroke-width="1.2"/><line x1="196.30" y1="215.5" x2="196.30" y2="211.20" stroke="#1a1a1a" stroke-width="1.2"/><line x1="242.30" y1="215.5" x2="242.30" y2="211.20" stroke="#1a1a1a" stroke-width="1.2"/><line x1="288.30" y1="215.5" x2="288.30" y2="211.20" stroke="#1a1a1a" stroke-width="1.2"/>
<rect x="320.8" y="23.0" width="10.0" height="183.0" fill="url(#cbg)"/>
<path d="M320.8,23.0 L325.8,13.7 L330.8,23.0 Z" fill="#0d0887"/>
<path d="M320.8,206.0 L325.8,216.3 L330.8,206.0 Z" fill="#f9dc24"/>
<path d="M320.8,23.0 L325.8,13.7 L330.8,23.0 L330.8,206.0 L325.8,216.3 L320.8,206.0 Z" fill="none" stroke="#1a1a1a" stroke-width="1.1"/>
<text x="64.41" y="8.80" font-size="12.4" fill="#262626" font-family="Liberation Serif, serif" textLength="75.05" lengthAdjust="spacingAndGlyphs">Fitting sample</text>
<text x="199.12" y="8.80" font-size="12.4" fill="#262626" font-family="Liberation Serif, serif" textLength="95.50" lengthAdjust="spacingAndGlyphs">Excluded from fits</text>
<text x="9.89" y="41.05" font-size="10" fill="#262626" font-family="Liberation Serif, serif" textLength="19.09" lengthAdjust="spacingAndGlyphs">−10</text>
<text x="15.67" y="77.40" font-size="10" fill="#262626" font-family="Liberation Serif, serif" textLength="13.31" lengthAdjust="spacingAndGlyphs">−5</text>
<text x="23.66" y="113.75" font-size="10" fill="#262626" font-family="Liberation Serif, serif" textLength="5.48" lengthAdjust="spacingAndGlyphs">0</text>
<text x="23.54" y="150.10" font-size="10" fill="#262626" font-family="Liberation Serif, serif" textLength="5.50" lengthAdjust="spacingAndGlyphs">5</text>
<text x="18.63" y="186.45" font-size="10" fill="#262626" font-family="Liberation Serif, serif" textLength="10.29" lengthAdjust="spacingAndGlyphs">10</text>
<text x="49.47" y="227.10" font-size="10" fill="#262626" font-family="Liberation Serif, serif" textLength="4.76" lengthAdjust="spacingAndGlyphs">0</text>
<text x="193.92" y="227.10" font-size="10" fill="#262626" font-family="Liberation Serif, serif" textLength="4.76" lengthAdjust="spacingAndGlyphs">0</text>
<text x="95.63" y="227.10" font-size="10" fill="#262626" font-family="Liberation Serif, serif" textLength="4.23" lengthAdjust="spacingAndGlyphs">1</text>
<text x="240.08" y="227.10" font-size="10" fill="#262626" font-family="Liberation Serif, serif" textLength="4.23" lengthAdjust="spacingAndGlyphs">1</text>
<text x="141.40" y="227.10" font-size="10" fill="#262626" font-family="Liberation Serif, serif" textLength="5.00" lengthAdjust="spacingAndGlyphs">2</text>
<text x="285.85" y="227.10" font-size="10" fill="#262626" font-family="Liberation Serif, serif" textLength="5.00" lengthAdjust="spacingAndGlyphs">2</text>
<text x="95.38" y="238.10" font-size="11.6" fill="#262626" font-family="Liberation Serif, serif" textLength="37.51" lengthAdjust="spacingAndGlyphs">2MASS</text>
<text x="138.62" y="238.10" font-size="11.6" fill="#262626" font-family="Liberation Serif, serif" font-style="italic" textLength="5.19" lengthAdjust="spacingAndGlyphs">J</text>
<text x="148.95" y="238.10" font-size="11.6" fill="#262626" font-family="Liberation Serif, serif" textLength="8.49" lengthAdjust="spacingAndGlyphs">−</text>
<text x="162.12" y="238.10" font-size="11.6" fill="#262626" font-family="Liberation Serif, serif" font-style="italic" textLength="8.25" lengthAdjust="spacingAndGlyphs">K</text>
<text x="171.61" y="239.70" font-size="8.6" fill="#262626" font-family="Liberation Serif, serif" font-style="italic" textLength="4.53" lengthAdjust="spacingAndGlyphs">S</text>
<text x="177.42" y="238.10" font-size="11.6" fill="#262626" font-family="Liberation Serif, serif" textLength="1.72" lengthAdjust="spacingAndGlyphs">,</text>
<text x="182.28" y="238.10" font-size="11.6" fill="#262626" font-family="Liberation Serif, serif" textLength="47.12" lengthAdjust="spacingAndGlyphs">synthetic</text>
<text x="234.86" y="238.10" font-size="11.6" fill="#262626" font-family="Liberation Serif, serif" textLength="26.76" lengthAdjust="spacingAndGlyphs">[mag]</text>
<text transform="translate(9.60,192.00) rotate(-90)" x="-0.60" y="0" font-size="11.6" fill="#262626" font-family="Liberation Serif, serif" textLength="42.67" lengthAdjust="spacingAndGlyphs">2MASS</text>
<text transform="translate(9.60,145.20) rotate(-90)" x="0.11" y="0" font-size="11.6" fill="#262626" font-family="Liberation Serif, serif" font-style="italic" textLength="9.27" lengthAdjust="spacingAndGlyphs">M</text>
<text transform="translate(11.20,134.10) rotate(-90)" x="0.07" y="0" font-size="8.6" fill="#262626" font-family="Liberation Serif, serif" font-style="italic" textLength="4.85" lengthAdjust="spacingAndGlyphs">H</text>
<text transform="translate(9.60,125.70) rotate(-90)" x="-0.33" y="0" font-size="11.6" fill="#262626" font-family="Liberation Serif, serif" textLength="2.07" lengthAdjust="spacingAndGlyphs">,</text>
<text transform="translate(9.60,119.20) rotate(-90)" x="-0.51" y="0" font-size="11.6" fill="#262626" font-family="Liberation Serif, serif" textLength="45.79" lengthAdjust="spacingAndGlyphs">synthetic</text>
<text transform="translate(9.60,66.70) rotate(-90)" x="-0.81" y="0" font-size="11.6" fill="#262626" font-family="Liberation Serif, serif" textLength="25.69" lengthAdjust="spacingAndGlyphs">[mag]</text>
<text x="334.25" y="32.90" font-size="10" fill="#262626" font-family="Liberation Serif, serif" textLength="11.20" lengthAdjust="spacingAndGlyphs">10</text>
<text x="334.27" y="47.61" font-size="10" fill="#262626" font-family="Liberation Serif, serif" textLength="5.47" lengthAdjust="spacingAndGlyphs">9</text>
<text x="334.15" y="64.06" font-size="10" fill="#262626" font-family="Liberation Serif, serif" textLength="5.60" lengthAdjust="spacingAndGlyphs">8</text>
<text x="333.85" y="82.70" font-size="10" fill="#262626" font-family="Liberation Serif, serif" textLength="5.80" lengthAdjust="spacingAndGlyphs">7</text>
<text x="334.16" y="104.22" font-size="10" fill="#262626" font-family="Liberation Serif, serif" textLength="5.47" lengthAdjust="spacingAndGlyphs">6</text>
<text x="333.90" y="129.68" font-size="10" fill="#262626" font-family="Liberation Serif, serif" textLength="5.87" lengthAdjust="spacingAndGlyphs">5</text>
<text x="334.40" y="160.84" font-size="10" fill="#262626" font-family="Liberation Serif, serif" textLength="5.05" lengthAdjust="spacingAndGlyphs">4</text>
<text x="334.09" y="201.01" font-size="10" fill="#262626" font-family="Liberation Serif, serif" textLength="5.66" lengthAdjust="spacingAndGlyphs">3</text>
<text transform="translate(354.00,136.90) rotate(-90)" x="-0.76" y="0" font-size="12.0" fill="#262626" font-family="Liberation Serif, serif" font-style="italic" textLength="6.47" lengthAdjust="spacingAndGlyphs">T</text>
<text transform="translate(355.50,128.00) rotate(-90)" x="-0.29" y="0" font-size="9.2" fill="#262626" font-family="Liberation Serif, serif" textLength="7.97" lengthAdjust="spacingAndGlyphs">eff</text>
<text transform="translate(354.00,112.90) rotate(-90)" x="-0.79" y="0" font-size="11.6" fill="#262626" font-family="Liberation Serif, serif" textLength="19.86" lengthAdjust="spacingAndGlyphs">[kK]</text>
</svg></body></html>
